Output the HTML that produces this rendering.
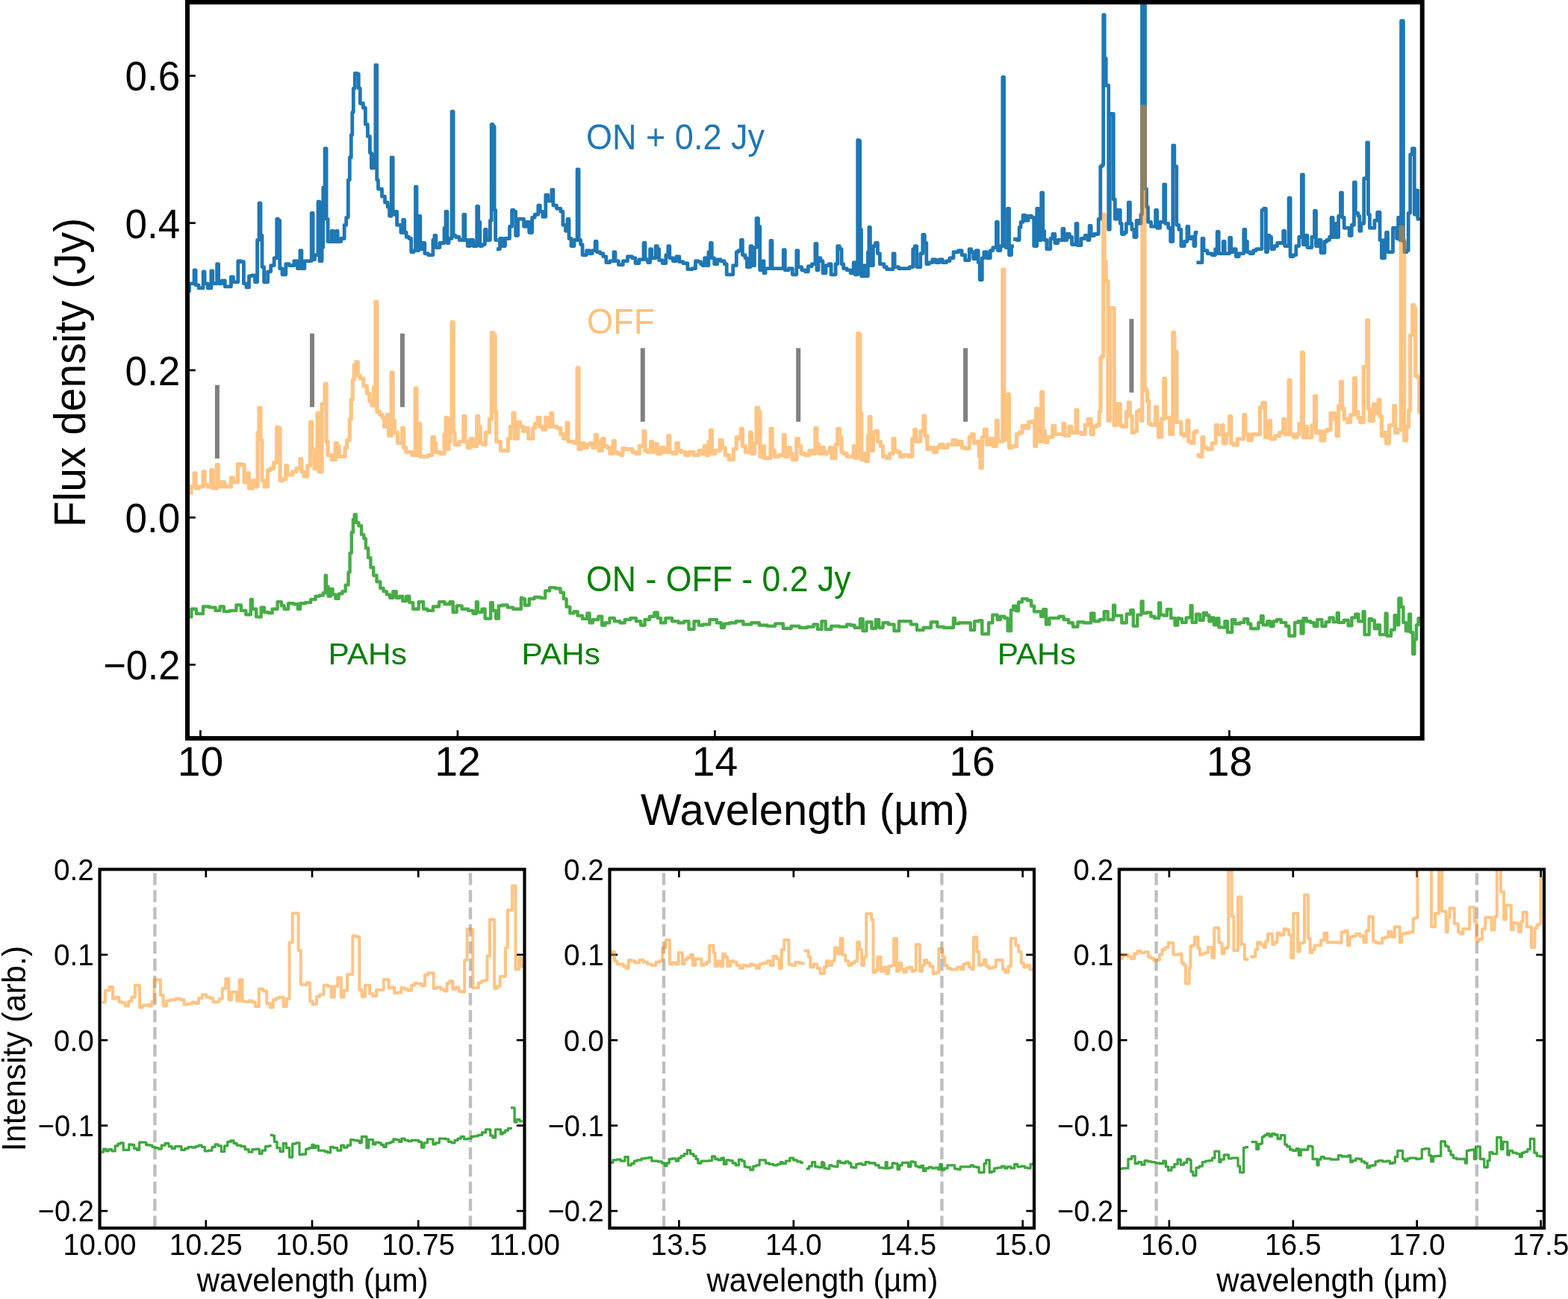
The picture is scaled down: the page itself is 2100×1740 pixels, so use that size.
<!DOCTYPE html><html><head><meta charset="utf-8"><title>Spectra</title><style>
html,body{margin:0;padding:0;background:#fff;}svg{display:block;}
text{font-family:'Liberation Sans', 'DejaVu Sans', sans-serif;}
</style></head><body>
<svg xmlns="http://www.w3.org/2000/svg" width="2100" height="1740" viewBox="0 0 2100 1740">
<rect x="0" y="0" width="2100" height="1740" fill="#ffffff"/>
<defs>
<clipPath id="cm"><rect x="251.00" y="2.90" width="1653.75" height="986.10"/></clipPath>
<clipPath id="cp0"><rect x="133.55" y="1164.50" width="568.95" height="480.50"/></clipPath>
<clipPath id="cp1"><rect x="816.50" y="1164.50" width="568.50" height="480.50"/></clipPath>
<clipPath id="cp2"><rect x="1498.90" y="1164.50" width="569.10" height="480.50"/></clipPath>
</defs>
<g clip-path="url(#cm)" fill="none" stroke-linejoin="round" stroke-linecap="square">
<path d="M252.0,389.9 L253.5,389.9 L253.5,379.9 L260.1,379.9 L260.1,361.8 L262.1,361.8 L262.1,381.9 L266.1,381.9 L266.1,385.9 L272.1,385.9 L272.1,363.8 L274.1,363.8 L274.1,379.9 L278.2,379.9 L278.2,385.9 L282.8,385.9 L282.8,362.8 L284.8,362.8 L284.8,379.9 L290.6,379.9 L290.6,353.7 L292.6,353.7 L292.6,379.9 L297.3,379.9 L297.3,375.8 L301.3,375.8 L301.3,383.9 L309.4,383.9 L309.4,370.8 L312.4,370.8 L312.4,377.8 L318.8,377.8 L318.8,349.7 L322.6,349.7 L322.6,350.7 L326.4,350.7 L326.4,379.9 L330.0,379.9 L330.0,384.9 L333.5,384.9 L333.5,369.8 L337.0,369.8 L337.0,368.8 L341.5,368.8 L341.5,377.8 L344.6,377.8 L344.6,321.5 L347.0,321.5 L347.0,272.2 L349.0,272.2 L349.0,315.5 L351.0,315.5 L351.0,357.7 L353.6,357.7 L353.6,377.8 L358.6,377.8 L358.6,363.8 L362.7,363.8 L362.7,355.7 L367.2,355.7 L367.2,345.7 L370.7,345.7 L370.7,293.4 L372.7,293.4 L372.7,295.4 L374.7,295.4 L374.7,359.7 L378.0,359.7 L378.0,367.8 L382.8,367.8 L382.8,353.7 L387.3,353.7 L387.3,355.7 L393.8,355.7 L393.8,349.7 L398.4,349.7 L398.4,359.7 L401.9,359.7 L401.9,335.6 L403.9,335.6 L403.9,359.7 L407.9,359.7 L407.9,349.7 L413.4,349.7 L413.4,349.7 L417.2,349.7 L417.2,285.3 L419.1,285.3 L419.1,347.7 L421.5,347.7 L421.5,341.6 L426.0,341.6 L426.0,270.2 L428.0,270.2 L428.0,349.7 L431.1,349.7 L431.1,331.6 L432.8,331.6 L432.8,251.1 L435.1,251.1 L435.1,198.8 L437.1,198.8 L437.1,293.4 L439.1,293.4 L439.1,323.5 L444.1,323.5 L444.1,309.4 L446.1,309.4 L446.1,323.5 L450.2,323.5 L450.2,309.4 L452.2,309.4 L452.2,323.5 L456.7,323.5 L456.7,319.5 L461.2,319.5 L461.2,301.4 L463.7,301.4 L463.7,291.3 L466.3,291.3 L466.3,241.1 L468.3,241.1 L468.3,210.9 L470.3,210.9 L470.3,180.7 L471.8,180.7 L471.8,150.5 L473.3,150.5 L473.3,118.3 L475.3,118.3 L475.3,98.2 L477.8,98.2 L477.8,99.2 L480.3,99.2 L480.3,118.3 L482.3,118.3 L482.3,138.5 L486.4,138.5 L486.4,144.5 L489.4,144.5 L489.4,166.6 L492.4,166.6 L492.4,182.7 L495.4,182.7 L495.4,204.8 L497.4,204.8 L497.4,225.0 L500.5,225.0 L500.5,206.9 L502.9,206.9 L502.9,87.2 L504.7,87.2 L504.7,241.1 L506.5,241.1 L506.5,253.1 L511.5,253.1 L511.5,263.2 L515.5,263.2 L515.5,271.2 L519.1,271.2 L519.1,277.3 L521.6,277.3 L521.6,289.3 L524.2,289.3 L524.2,210.9 L526.2,210.9 L526.2,287.3 L529.1,287.3 L529.1,283.3 L531.6,283.3 L531.6,301.4 L536.9,301.4 L536.9,311.5 L539.7,311.5 L539.7,294.4 L541.7,294.4 L541.7,311.5 L544.2,311.5 L544.2,317.5 L547.7,317.5 L547.7,319.5 L550.7,319.5 L550.7,337.6 L554.3,337.6 L554.3,335.6 L556.5,335.6 L556.5,250.1 L558.0,250.1 L558.0,335.6 L560.8,335.6 L560.8,289.3 L562.8,289.3 L562.8,333.6 L565.8,333.6 L565.8,325.5 L568.8,325.5 L568.8,339.6 L573.4,339.6 L573.4,341.6 L579.9,341.6 L579.9,321.5 L581.9,321.5 L581.9,315.5 L583.9,315.5 L583.9,331.6 L589.0,331.6 L589.0,325.5 L595.0,325.5 L595.0,305.4 L597.0,305.4 L597.0,283.3 L599.0,283.3 L599.0,325.5 L601.1,325.5 L601.1,319.5 L603.1,319.5 L603.1,319.5 L605.1,319.5 L605.1,149.5 L607.1,149.5 L607.1,315.5 L610.1,315.5 L610.1,317.5 L615.1,317.5 L615.1,321.5 L620.8,321.5 L620.8,287.3 L622.8,287.3 L622.8,321.5 L626.2,321.5 L626.2,329.6 L629.7,329.6 L629.7,321.5 L633.8,321.5 L633.8,329.6 L638.7,329.6 L638.7,276.3 L640.7,276.3 L640.7,297.4 L642.8,297.4 L642.8,329.6 L645.8,329.6 L645.8,327.6 L649.4,327.6 L649.4,307.4 L651.4,307.4 L651.4,321.5 L656.4,321.5 L656.4,295.4 L658.2,295.4 L658.2,166.6 L660.2,166.6 L660.2,169.6 L662.1,169.6 L662.1,281.3 L663.6,281.3 L663.6,321.5 L664.4,321.5 M667.4,333.6 L669.5,333.6 L669.5,319.5 L672.5,319.5 L672.5,329.6 L676.5,329.6 L676.5,319.5 L682.5,319.5 L682.5,303.4 L685.6,303.4 L685.6,281.3 L688.1,281.3 L688.1,283.3 L690.6,283.3 L690.6,315.5 L693.6,315.5 L693.6,293.4 L697.1,293.4 L697.1,293.4 L701.6,293.4 L701.6,303.4 L705.7,303.4 L705.7,297.4 L708.7,297.4 L708.7,311.5 L712.7,311.5 L712.7,291.3 L716.2,291.3 L716.2,287.3 L720.8,287.3 L720.8,275.2 L723.3,275.2 L723.3,283.3 L726.8,283.3 L726.8,290.3 L730.8,290.3 L730.8,261.2 L733.8,261.2 L733.8,269.2 L738.9,269.2 L738.9,254.1 L740.9,254.1 L740.9,275.2 L745.4,275.2 L745.4,279.3 L750.9,279.3 L750.9,283.3 L753.9,283.3 L753.9,301.4 L757.5,301.4 L757.5,309.4 L760.0,309.4 L760.0,293.4 L762.0,293.4 L762.0,319.5 L765.0,319.5 L765.0,329.6 L769.0,329.6 L769.0,321.5 L773.1,321.5 L773.1,227.0 L775.1,227.0 L775.1,321.5 L777.6,321.5 L777.6,327.6 L780.1,327.6 L780.1,341.6 L785.6,341.6 L785.6,335.6 L789.7,335.6 L789.7,339.6 L793.2,339.6 L793.2,335.6 L797.2,335.6 L797.2,323.5 L799.2,323.5 L799.2,337.6 L803.7,337.6 L803.7,339.6 L807.8,339.6 L807.8,343.6 L811.8,343.6 L811.8,351.7 L816.8,351.7 L816.8,349.7 L822.0,349.7 L822.0,337.6 L824.0,337.6 L824.0,349.7 L828.4,349.7 L828.4,354.7 L834.4,354.7 L834.4,349.7 L840.5,349.7 L840.5,343.6 L846.5,343.6 L846.5,345.7 L851.0,345.7 L851.0,352.7 L856.0,352.7 L856.0,347.7 L862.0,347.7 L862.0,325.5 L864.0,325.5 L864.0,347.7 L867.6,347.7 L867.6,351.7 L870.6,351.7 L870.6,333.6 L872.6,333.6 L872.6,345.7 L878.1,345.7 L878.1,329.6 L880.4,329.6 L880.4,333.6 L882.7,333.6 L882.7,348.7 L887.2,348.7 L887.2,352.7 L891.8,352.7 L891.8,341.6 L894.8,341.6 L894.8,329.6 L896.8,329.6 L896.8,345.7 L901.3,345.7 L901.3,349.7 L905.8,349.7 L905.8,343.6 L909.9,343.6 L909.9,350.7 L914.9,350.7 L914.9,352.7 L920.9,352.7 L920.9,360.7 L927.0,360.7 L927.0,359.7 L931.5,359.7 L931.5,349.7 L935.0,349.7 L935.0,350.7 L938.5,350.7 L938.5,353.7 L941.1,353.7 L941.1,355.7 L943.6,355.7 L943.6,345.7 L946.6,345.7 L946.6,355.7 L948.9,355.7 L948.9,337.6 L951.5,337.6 L951.5,325.5 L953.3,325.5 L953.3,345.7 L956.7,345.7 L956.7,353.7 L960.7,353.7 L960.7,347.7 L965.2,347.7 L965.2,349.7 L970.2,349.7 L970.2,353.7 L973.2,353.7 L973.2,367.8 L981.7,367.8 L981.7,355.7 L986.3,355.7 L986.3,337.6 L988.8,337.6 L988.8,335.6 L992.4,335.6 L992.4,321.5 L994.4,321.5 L994.4,341.6 L997.9,341.6 L997.9,345.7 L1000.4,345.7 L1000.4,357.7 L1005.0,357.7 L1005.0,329.6 L1007.0,329.6 L1007.0,355.7 L1010.5,355.7 L1010.5,331.6 L1013.1,331.6 L1013.1,292.3 L1015.5,292.3 L1015.5,303.4 L1017.7,303.4 L1017.7,361.8 L1021.5,361.8 L1021.5,349.7 L1023.0,349.7 L1023.0,365.8 L1025.1,365.8 L1025.1,359.7 L1032.0,359.7 L1032.0,322.5 L1034.0,322.5 L1034.0,359.7 L1039.1,359.7 L1039.1,359.7 L1044.7,359.7 L1044.7,359.7 L1049.3,359.7 L1049.3,334.6 L1051.3,334.6 L1051.3,361.8 L1056.2,361.8 L1056.2,359.7 L1061.3,359.7 L1061.3,367.8 L1066.8,367.8 L1066.8,335.6 L1068.8,335.6 L1068.8,357.7 L1073.8,357.7 L1073.8,361.8 L1078.4,361.8 L1078.4,363.8 L1082.4,363.8 L1082.4,356.7 L1087.4,356.7 L1087.4,353.7 L1091.9,353.7 L1091.9,326.5 L1093.9,326.5 L1093.9,361.8 L1096.0,361.8 L1096.0,345.7 L1099.0,345.7 L1099.0,349.7 L1102.0,349.7 L1102.0,365.8 L1106.0,365.8 L1106.0,355.7 L1110.0,355.7 L1110.0,353.7 L1113.1,353.7 L1113.1,367.8 L1119.1,367.8 L1119.1,353.7 L1121.7,353.7 L1121.7,329.6 L1124.4,329.6 L1124.4,333.6 L1127.1,333.6 L1127.1,353.7 L1129.7,353.7 L1129.7,359.7 L1134.2,359.7 L1134.2,361.8 L1139.2,361.8 L1139.2,365.8 L1143.2,365.8 L1143.2,351.7 L1145.2,351.7 L1145.2,367.8 L1148.7,367.8 L1148.7,187.7 L1150.3,187.7 L1150.3,188.7 L1151.7,188.7 L1151.7,307.4 L1153.5,307.4 L1153.5,369.8 L1157.3,369.8 L1157.3,355.7 L1159.3,355.7 L1159.3,369.8 L1162.4,369.8 L1162.4,337.6 L1163.9,337.6 L1163.9,304.4 L1165.4,304.4 L1165.4,355.7 L1169.4,355.7 L1169.4,329.6 L1172.4,329.6 L1172.4,325.5 L1175.4,325.5 L1175.4,339.6 L1178.4,339.6 L1178.4,353.7 L1184.0,353.7 L1184.0,357.7 L1187.5,357.7 L1187.5,360.7 L1192.0,360.7 L1192.0,360.7 L1196.1,360.7 L1196.1,339.6 L1198.1,339.6 L1198.1,357.7 L1203.6,357.7 L1203.6,359.7 L1211.6,359.7 L1211.6,359.7 L1218.2,359.7 L1218.2,357.7 L1222.7,357.7 L1222.7,333.6 L1225.2,333.6 L1225.2,329.6 L1227.7,329.6 L1227.7,357.7 L1232.8,357.7 L1232.8,339.6 L1235.8,339.6 L1235.8,314.5 L1238.3,314.5 L1238.3,325.5 L1240.8,325.5 L1240.8,353.7 L1244.3,353.7 L1244.3,351.7 L1248.8,351.7 L1248.8,347.7 L1253.4,347.7 L1253.4,351.7 L1257.9,351.7 L1257.9,347.7 L1262.4,347.7 L1262.4,351.7 L1267.5,351.7 L1267.5,349.7 L1272.0,349.7 L1272.0,345.7 L1277.0,345.7 L1277.0,337.6 L1280.5,337.6 L1280.5,337.6 L1283.6,337.6 L1283.6,335.6 L1288.1,335.6 L1288.1,341.6 L1292.6,341.6 L1292.6,348.7 L1298.2,348.7 L1298.2,333.6 L1300.7,333.6 L1300.7,337.6 L1303.7,337.6 L1303.7,346.7 L1307.2,346.7 L1307.2,335.6 L1310.2,335.6 L1310.2,351.7 L1312.2,351.7 L1312.2,374.8 L1315.3,374.8 L1315.3,345.7 L1317.8,345.7 L1317.8,337.6 L1321.8,337.6 L1321.8,345.7 L1326.3,345.7 L1326.3,335.6 L1329.8,335.6 L1329.8,331.6 L1334.4,331.6 L1334.4,297.4 L1336.4,297.4 L1336.4,335.6 L1339.9,335.6 L1339.9,329.6 L1342.8,329.6 L1342.8,103.3 L1344.6,103.3 L1344.6,329.6 L1346.9,329.6 L1346.9,331.6 L1349.5,331.6 L1349.5,279.3 L1351.5,279.3 L1351.5,341.6 L1354.5,341.6 L1354.5,329.6 L1355.5,329.6 M1359.5,320.5 L1362.0,320.5 L1362.0,321.5 L1365.1,321.5 L1365.1,304.4 L1367.1,304.4 L1367.1,297.4 L1370.1,297.4 L1370.1,288.3 L1373.1,288.3 L1373.1,295.4 L1377.1,295.4 L1377.1,289.3 L1381.6,289.3 L1381.6,291.3 L1384.7,291.3 L1384.7,329.6 L1388.7,329.6 L1388.7,279.3 L1390.7,279.3 L1390.7,321.5 L1394.7,321.5 L1394.7,258.1 L1396.7,258.1 L1396.7,309.4 L1398.7,309.4 L1398.7,321.5 L1401.8,321.5 L1401.8,333.6 L1406.8,333.6 L1406.8,319.5 L1409.8,319.5 L1409.8,313.5 L1412.8,313.5 L1412.8,325.5 L1416.9,325.5 L1416.9,321.5 L1422.9,321.5 L1422.9,306.4 L1424.9,306.4 L1424.9,321.5 L1428.9,321.5 L1428.9,313.5 L1432.4,313.5 L1432.4,317.5 L1435.5,317.5 L1435.5,327.6 L1441.0,327.6 L1441.0,299.4 L1443.0,299.4 L1443.0,328.6 L1448.0,328.6 L1448.0,319.5 L1453.1,319.5 L1453.1,315.5 L1456.6,315.5 L1456.6,321.5 L1459.1,321.5 L1459.1,302.4 L1461.1,302.4 L1461.1,315.5 L1465.6,315.5 L1465.6,313.5 L1471.2,313.5 L1471.2,293.4 L1473.8,293.4 L1473.8,222.9 L1476.0,222.9 L1476.0,220.9 L1477.7,220.9 L1477.7,19.8 L1479.2,19.8 L1479.2,78.1 L1481.2,78.1 L1481.2,114.3 L1483.2,114.3 L1483.2,114.3 L1484.7,114.3 L1484.7,307.4 L1486.3,307.4 L1486.3,152.5 L1488.8,152.5 L1488.8,152.5 L1491.3,152.5 L1491.3,267.2 L1493.3,267.2 L1493.3,293.4 L1496.3,293.4 L1496.3,281.3 L1498.3,281.3 L1498.3,281.3 L1500.3,281.3 L1500.3,299.4 L1502.3,299.4 L1502.3,313.5 L1505.9,313.5 L1505.9,311.5 L1508.4,311.5 L1508.4,299.4 L1511.4,299.4 L1511.4,271.2 L1513.4,271.2 L1513.4,299.4 L1515.9,299.4 L1515.9,307.4 L1518.9,307.4 L1518.9,317.5 L1522.1,317.5 L1522.1,295.4 L1525.3,295.4 L1525.3,299.4 L1528.0,299.4 L1528.0,287.3 L1529.5,287.3 L1529.5,5.7 L1531.5,5.7 L1531.5,5.7 L1533.5,5.7 L1533.5,253.1 L1535.5,253.1 L1535.5,277.3 L1537.5,277.3 L1537.5,297.4 L1541.6,297.4 L1541.6,303.4 L1547.6,303.4 L1547.6,281.3 L1549.6,281.3 L1549.6,305.4 L1553.6,305.4 L1553.6,297.4 L1558.7,297.4 L1558.7,247.1 L1560.7,247.1 L1560.7,299.4 L1564.7,299.4 L1564.7,305.4 L1567.7,305.4 L1567.7,323.5 L1570.8,323.5 L1570.8,194.8 L1572.8,194.8 L1572.8,222.9 L1575.8,222.9 L1575.8,301.4 L1578.8,301.4 L1578.8,307.4 L1581.8,307.4 L1581.8,329.6 L1586.3,329.6 L1586.3,323.5 L1589.9,323.5 L1589.9,303.4 L1591.9,303.4 L1591.9,319.5 L1595.9,319.5 L1595.9,317.5 L1598.9,317.5 L1598.9,329.6 L1600.9,329.6 L1600.9,311.5 L1601.9,311.5 M1604.9,351.7 L1607.0,351.7 L1607.0,351.7 L1610.0,351.7 L1610.0,319.5 L1612.0,319.5 L1612.0,335.6 L1617.0,335.6 L1617.0,339.6 L1623.1,339.6 L1623.1,341.6 L1627.7,341.6 L1627.7,333.6 L1630.2,333.6 L1630.2,310.5 L1632.2,310.5 L1632.2,339.6 L1635.7,339.6 L1635.7,339.6 L1638.2,339.6 L1638.2,323.5 L1640.2,323.5 L1640.2,339.6 L1646.7,339.6 L1646.7,318.5 L1648.7,318.5 L1648.7,337.6 L1651.8,337.6 L1651.8,333.6 L1655.3,333.6 L1655.3,343.6 L1659.3,343.6 L1659.3,339.6 L1665.8,339.6 L1665.8,307.4 L1667.8,307.4 L1667.8,323.5 L1670.4,323.5 L1670.4,337.6 L1673.9,337.6 L1673.9,339.6 L1678.5,339.6 L1678.5,335.6 L1682.5,335.6 L1682.5,333.6 L1687.0,333.6 L1687.0,333.6 L1690.0,333.6 L1690.0,281.3 L1692.5,281.3 L1692.5,279.3 L1695.4,279.3 L1695.4,337.6 L1697.6,337.6 L1697.6,315.5 L1700.1,315.5 L1700.1,317.5 L1702.6,317.5 L1702.6,333.6 L1706.6,333.6 L1706.6,329.6 L1710.6,329.6 L1710.6,325.5 L1714.7,325.5 L1714.7,325.5 L1718.7,325.5 L1718.7,309.4 L1720.7,309.4 L1720.7,329.6 L1726.1,329.6 L1726.1,265.2 L1728.1,265.2 L1728.1,343.6 L1732.3,343.6 L1732.3,341.6 L1735.8,341.6 L1735.8,329.6 L1739.8,329.6 L1739.8,317.5 L1743.4,317.5 L1743.4,234.0 L1745.4,234.0 L1745.4,327.6 L1748.9,327.6 L1748.9,315.5 L1750.9,315.5 L1750.9,331.6 L1756.9,331.6 L1756.9,317.5 L1760.5,317.5 L1760.5,282.3 L1762.5,282.3 L1762.5,329.6 L1766.0,329.6 L1766.0,321.5 L1769.0,321.5 L1769.0,338.6 L1774.0,338.6 L1774.0,323.5 L1777.0,323.5 L1777.0,321.5 L1780.5,321.5 L1780.5,317.5 L1783.1,317.5 L1783.1,291.3 L1785.1,291.3 L1785.1,317.5 L1789.1,317.5 L1789.1,299.4 L1791.1,299.4 L1791.1,317.5 L1792.6,317.5 L1792.6,289.3 L1795.5,289.3 L1795.5,258.1 L1797.5,258.1 L1797.5,291.3 L1800.2,291.3 L1800.2,305.4 L1803.2,305.4 L1803.2,305.4 L1807.2,305.4 L1807.2,315.5 L1810.2,315.5 L1810.2,301.4 L1813.4,301.4 L1813.4,244.1 L1815.4,244.1 L1815.4,285.3 L1818.8,285.3 L1818.8,289.3 L1820.8,289.3 L1820.8,309.4 L1822.8,309.4 L1822.8,299.4 L1826.7,299.4 L1826.7,239.0 L1830.7,239.0 L1830.7,190.8 L1832.5,190.8 L1832.5,287.3 L1834.4,287.3 L1834.4,305.4 L1837.9,305.4 L1837.9,305.4 L1840.9,305.4 L1840.9,295.4 L1844.7,295.4 L1844.7,284.3 L1848.0,284.3 L1848.0,321.5 L1850.4,321.5 L1850.4,345.7 L1854.5,345.7 L1854.5,321.5 L1856.5,321.5 L1856.5,311.5 L1858.5,311.5 L1858.5,337.6 L1861.5,337.6 L1861.5,337.6 L1865.5,337.6 L1865.5,305.4 L1868.1,305.4 L1868.1,305.4 L1870.6,305.4 L1870.6,319.5 L1872.6,319.5 L1872.6,291.3 L1874.6,291.3 L1874.6,321.5 L1876.6,321.5 L1876.6,28.0 L1878.0,28.0 L1878.0,28.0 L1879.4,28.0 L1879.4,323.5 L1881.0,323.5 L1881.0,337.6 L1884.1,337.6 L1884.1,335.6 L1886.2,335.6 L1886.2,285.3 L1888.7,285.3 L1888.7,206.9 L1891.5,206.9 L1891.5,198.8 L1894.3,198.8 L1894.3,287.3 L1896.7,287.3 L1896.7,255.1 L1898.7,255.1 L1898.7,293.4 L1900.7,293.4 L1900.7,293.4 L1901.8,293.4" stroke="#1f77b4" stroke-width="4.8"/>
<path d="M254.0,659.9 L256.0,659.9 L256.0,651.9 L260.1,651.9 L260.1,633.8 L262.1,633.8 L262.1,653.9 L266.1,653.9 L266.1,651.9 L272.1,651.9 L272.1,631.8 L274.1,631.8 L274.1,649.9 L278.2,649.9 L278.2,651.9 L282.8,651.9 L282.8,629.7 L284.8,629.7 L284.8,653.9 L290.2,653.9 L290.2,622.7 L292.2,622.7 L292.2,651.9 L296.3,651.9 L296.3,645.8 L300.8,645.8 L300.8,651.9 L309.4,651.9 L309.4,639.8 L312.4,639.8 L312.4,645.8 L318.4,645.8 L318.4,621.7 L322.7,621.7 L322.7,622.7 L327.0,622.7 L327.0,645.8 L331.5,645.8 L331.5,633.8 L333.5,633.8 L333.5,653.9 L338.5,653.9 L338.5,643.8 L342.5,643.8 L342.5,651.9 L345.1,651.9 L345.1,579.4 L347.0,579.4 L347.0,546.3 L349.0,546.3 L349.0,589.5 L351.0,589.5 L351.0,643.8 L354.1,643.8 L354.1,651.9 L358.6,651.9 L358.6,629.7 L362.2,629.7 L362.2,627.7 L366.7,627.7 L366.7,619.7 L370.7,619.7 L370.7,572.4 L373.0,572.4 L373.0,573.4 L375.0,573.4 L375.0,643.8 L378.2,643.8 L378.2,641.8 L382.8,641.8 L382.8,623.7 L384.8,623.7 L384.8,635.8 L391.8,635.8 L391.8,631.8 L396.9,631.8 L396.9,627.7 L401.9,627.7 L401.9,614.7 L403.9,614.7 L403.9,631.8 L406.9,631.8 L406.9,637.8 L411.9,637.8 L411.9,623.7 L415.6,623.7 L415.6,565.4 L417.6,565.4 L417.6,601.6 L421.0,601.6 L421.0,627.7 L425.0,627.7 L425.0,553.3 L427.0,553.3 L427.0,631.8 L431.1,631.8 L431.1,541.2 L435.1,541.2 L435.1,514.1 L437.1,514.1 L437.1,591.5 L439.1,591.5 L439.1,609.6 L444.1,609.6 L444.1,615.7 L449.2,615.7 L449.2,593.5 L451.7,593.5 L451.7,597.6 L454.2,597.6 L454.2,611.6 L458.2,611.6 L458.2,611.6 L462.2,611.6 L462.2,599.6 L464.7,599.6 L464.7,589.5 L468.3,589.5 L468.3,561.3 L470.3,561.3 L470.3,535.2 L472.3,535.2 L472.3,509.0 L474.3,509.0 L474.3,488.9 L476.8,488.9 L476.8,484.9 L479.3,484.9 L479.3,503.0 L482.3,503.0 L482.3,507.0 L486.9,507.0 L486.9,517.1 L491.4,517.1 L491.4,527.1 L494.9,527.1 L494.9,537.2 L497.9,537.2 L497.9,543.2 L500.5,543.2 L500.5,519.1 L502.9,519.1 L502.9,404.4 L504.9,404.4 L504.9,551.3 L508.5,551.3 L508.5,555.3 L512.0,555.3 L512.0,559.3 L514.5,559.3 L514.5,571.4 L518.6,571.4 L518.6,555.3 L520.6,555.3 L520.6,583.5 L524.2,583.5 L524.2,499.0 L526.2,499.0 L526.2,563.4 L528.6,563.4 L528.6,579.4 L532.6,579.4 L532.6,593.5 L538.7,593.5 L538.7,573.4 L540.7,573.4 L540.7,599.6 L543.7,599.6 L543.7,605.6 L547.7,605.6 L547.7,605.6 L551.8,605.6 L551.8,609.6 L556.2,609.6 L556.2,520.1 L558.0,520.1 L558.0,609.6 L560.8,609.6 L560.8,567.4 L562.8,567.4 L562.8,611.6 L567.3,611.6 L567.3,611.6 L572.9,611.6 L572.9,609.6 L578.9,609.6 L578.9,585.5 L581.4,585.5 L581.4,593.5 L583.9,593.5 L583.9,605.6 L589.0,605.6 L589.0,607.6 L595.0,607.6 L595.0,581.5 L597.0,581.5 L597.0,559.3 L599.0,559.3 L599.0,601.6 L601.1,601.6 L601.1,591.5 L603.1,591.5 L603.1,561.3 L605.1,561.3 L605.1,431.6 L607.1,431.6 L607.1,579.4 L609.1,579.4 L609.1,595.5 L615.1,595.5 L615.1,591.5 L620.8,591.5 L620.8,557.3 L622.8,557.3 L622.8,591.5 L626.2,591.5 L626.2,599.6 L630.2,599.6 L630.2,587.5 L633.3,587.5 L633.3,597.6 L638.7,597.6 L638.7,557.3 L640.7,557.3 L640.7,571.4 L643.3,571.4 L643.3,593.5 L646.8,593.5 L646.8,595.5 L650.4,595.5 L650.4,579.4 L655.4,579.4 L655.4,561.3 L658.4,561.3 L658.4,445.7 L660.7,445.7 L660.7,448.7 L663.0,448.7 L663.0,551.3 L664.7,551.3 L664.7,591.5 L667.4,591.5 L667.4,591.5 L670.5,591.5 L670.5,603.6 L675.0,603.6 L675.0,603.6 L680.5,603.6 L680.5,587.5 L683.5,587.5 L683.5,571.4 L687.0,571.4 L687.0,553.3 L689.0,553.3 L689.0,587.5 L693.6,587.5 L693.6,565.4 L696.6,565.4 L696.6,571.4 L700.6,571.4 L700.6,577.4 L704.7,577.4 L704.7,573.4 L707.7,573.4 L707.7,587.5 L713.7,587.5 L713.7,573.4 L716.7,573.4 L716.7,567.4 L720.3,567.4 L720.3,559.3 L722.8,559.3 L722.8,571.4 L726.8,571.4 L726.8,575.4 L730.8,575.4 L730.8,559.3 L732.8,559.3 L732.8,571.4 L737.9,571.4 L737.9,553.3 L739.9,553.3 L739.9,571.4 L745.9,571.4 L745.9,573.4 L750.9,573.4 L750.9,581.5 L754.5,581.5 L754.5,587.5 L759.0,587.5 L759.0,566.4 L761.0,566.4 L761.0,591.5 L764.8,591.5 L764.8,591.5 L769.0,591.5 L769.0,593.5 L773.1,593.5 L773.1,492.9 L775.1,492.9 L775.1,601.6 L778.1,601.6 L778.1,593.5 L782.1,593.5 L782.1,599.6 L786.1,599.6 L786.1,595.5 L790.2,595.5 L790.2,593.5 L793.7,593.5 L793.7,599.6 L797.2,599.6 L797.2,582.5 L799.7,582.5 L799.7,591.5 L802.2,591.5 L802.2,603.6 L806.3,603.6 L806.3,587.5 L809.3,587.5 L809.3,597.6 L813.3,597.6 L813.3,599.6 L816.8,599.6 L816.8,607.6 L821.3,607.6 L821.3,590.5 L823.3,590.5 L823.3,605.6 L826.9,605.6 L826.9,607.6 L831.4,607.6 L831.4,609.6 L833.9,609.6 L833.9,600.6 L836.9,600.6 L836.9,601.6 L842.0,601.6 L842.0,601.6 L847.0,601.6 L847.0,605.6 L851.5,605.6 L851.5,607.6 L856.5,607.6 L856.5,597.6 L862.0,597.6 L862.0,577.4 L864.0,577.4 L864.0,603.6 L867.6,603.6 L867.6,605.6 L871.6,605.6 L871.6,591.5 L873.6,591.5 L873.6,605.6 L877.7,605.6 L877.7,594.5 L880.7,594.5 L880.7,607.6 L885.7,607.6 L885.7,599.6 L889.7,599.6 L889.7,605.6 L894.8,605.6 L894.8,583.5 L896.8,583.5 L896.8,605.6 L900.8,605.6 L900.8,607.6 L905.8,607.6 L905.8,593.5 L908.3,593.5 L908.3,603.6 L912.9,603.6 L912.9,605.6 L917.9,605.6 L917.9,609.6 L922.9,609.6 L922.9,605.6 L929.0,605.6 L929.0,609.6 L936.0,609.6 L936.0,603.6 L940.5,603.6 L940.5,607.6 L943.1,607.6 L943.1,597.6 L946.1,597.6 L946.1,609.6 L949.1,609.6 L949.1,591.5 L951.5,591.5 L951.5,576.4 L953.5,576.4 L953.5,607.6 L957.7,607.6 L957.7,603.6 L964.2,603.6 L964.2,589.5 L967.2,589.5 L967.2,599.6 L971.2,599.6 L971.2,609.6 L976.3,609.6 L976.3,615.7 L982.3,615.7 L982.3,601.6 L986.3,601.6 L986.3,585.5 L988.8,585.5 L988.8,587.5 L992.4,587.5 L992.4,574.4 L994.4,574.4 L994.4,597.6 L998.4,597.6 L998.4,605.6 L1004.4,605.6 L1004.4,579.4 L1006.4,579.4 L1006.4,607.6 L1010.5,607.6 L1010.5,593.5 L1013.1,593.5 L1013.1,546.3 L1015.8,546.3 L1015.8,551.3 L1018.0,551.3 L1018.0,611.6 L1021.5,611.6 L1021.5,597.6 L1023.5,597.6 L1023.5,613.6 L1026.6,613.6 L1026.6,613.6 L1032.0,613.6 L1032.0,574.4 L1034.0,574.4 L1034.0,603.6 L1037.6,603.6 L1037.6,611.6 L1043.2,611.6 L1043.2,609.6 L1049.3,609.6 L1049.3,582.5 L1051.3,582.5 L1051.3,611.6 L1055.7,611.6 L1055.7,599.6 L1058.2,599.6 L1058.2,607.6 L1061.3,607.6 L1061.3,615.7 L1066.8,615.7 L1066.8,587.5 L1069.3,587.5 L1069.3,597.6 L1072.8,597.6 L1072.8,607.6 L1077.9,607.6 L1077.9,609.6 L1083.9,609.6 L1083.9,603.6 L1088.9,603.6 L1088.9,607.6 L1091.9,607.6 L1091.9,573.4 L1093.9,573.4 L1093.9,595.5 L1097.0,595.5 L1097.0,607.6 L1100.5,607.6 L1100.5,599.6 L1103.5,599.6 L1103.5,607.6 L1107.0,607.6 L1107.0,605.6 L1111.1,605.6 L1111.1,599.6 L1114.1,599.6 L1114.1,613.6 L1119.1,613.6 L1119.1,595.5 L1121.7,595.5 L1121.7,574.4 L1124.4,574.4 L1124.4,585.5 L1127.1,585.5 L1127.1,605.6 L1129.7,605.6 L1129.7,607.6 L1134.2,607.6 L1134.2,611.6 L1139.2,611.6 L1139.2,611.6 L1143.2,611.6 L1143.2,597.6 L1145.2,597.6 L1145.2,613.6 L1148.7,613.6 L1148.7,446.7 L1150.3,446.7 L1150.3,447.7 L1151.9,447.7 L1151.9,553.3 L1153.9,553.3 L1153.9,615.7 L1156.8,615.7 L1156.8,607.6 L1159.6,607.6 L1159.6,617.7 L1162.4,617.7 L1162.4,583.5 L1164.2,583.5 L1164.2,558.3 L1166.0,558.3 L1166.0,603.6 L1169.4,603.6 L1169.4,579.4 L1172.4,579.4 L1172.4,577.4 L1175.4,577.4 L1175.4,591.5 L1179.4,591.5 L1179.4,597.6 L1182.5,597.6 L1182.5,611.6 L1187.5,611.6 L1187.5,613.6 L1191.5,613.6 L1191.5,607.6 L1196.1,607.6 L1196.1,587.5 L1198.1,587.5 L1198.1,603.6 L1201.6,603.6 L1201.6,605.6 L1205.6,605.6 L1205.6,611.6 L1210.6,611.6 L1210.6,609.6 L1216.7,609.6 L1216.7,611.6 L1221.7,611.6 L1221.7,587.5 L1224.7,587.5 L1224.7,575.4 L1226.7,575.4 L1226.7,591.5 L1232.8,591.5 L1232.8,577.4 L1236.8,577.4 L1236.8,557.3 L1238.8,557.3 L1238.8,583.5 L1241.8,583.5 L1241.8,601.6 L1245.3,601.6 L1245.3,599.6 L1250.4,599.6 L1250.4,605.6 L1254.4,605.6 L1254.4,599.6 L1258.4,599.6 L1258.4,595.5 L1263.4,595.5 L1263.4,599.6 L1269.0,599.6 L1269.0,595.5 L1276.0,595.5 L1276.0,589.5 L1280.5,589.5 L1280.5,595.5 L1283.6,595.5 L1283.6,591.5 L1288.1,591.5 L1288.1,599.6 L1292.1,599.6 L1292.1,600.6 L1298.2,600.6 L1298.2,585.5 L1301.2,585.5 L1301.2,581.5 L1304.2,581.5 L1304.2,593.5 L1308.7,593.5 L1308.7,591.5 L1311.2,591.5 L1311.2,611.6 L1313.0,611.6 L1313.0,626.7 L1315.3,626.7 L1315.3,585.5 L1318.3,585.5 L1318.3,575.4 L1321.3,575.4 L1321.3,595.5 L1325.8,595.5 L1325.8,587.5 L1330.4,587.5 L1330.4,597.6 L1334.4,597.6 L1334.4,563.4 L1336.4,563.4 L1336.4,591.5 L1342.8,591.5 L1342.8,361.2 L1344.8,361.2 L1344.8,589.5 L1349.5,589.5 L1349.5,528.1 L1351.5,528.1 L1351.5,599.6 L1355.7,599.6 L1355.7,597.6 L1361.5,597.6 L1361.5,581.5 L1365.1,581.5 L1365.1,579.4 L1369.1,579.4 L1369.1,570.4 L1373.1,570.4 L1373.1,573.4 L1377.6,573.4 L1377.6,565.4 L1382.2,565.4 L1382.2,564.4 L1385.7,564.4 L1385.7,597.6 L1387.7,597.6 L1387.7,547.3 L1389.7,547.3 L1389.7,591.5 L1394.7,591.5 L1394.7,525.1 L1396.7,525.1 L1396.7,577.4 L1399.7,577.4 L1399.7,592.5 L1402.8,592.5 L1402.8,585.5 L1409.8,585.5 L1409.8,570.4 L1412.8,570.4 L1412.8,581.5 L1417.9,581.5 L1417.9,581.5 L1423.9,581.5 L1423.9,567.4 L1425.9,567.4 L1425.9,583.5 L1431.9,583.5 L1431.9,571.4 L1435.0,571.4 L1435.0,579.4 L1441.0,579.4 L1441.0,549.3 L1443.0,549.3 L1443.0,579.4 L1448.0,579.4 L1448.0,581.5 L1453.1,581.5 L1453.1,569.4 L1457.1,569.4 L1457.1,561.3 L1461.1,561.3 L1461.1,581.5 L1464.4,581.5 L1464.4,571.4 L1468.7,571.4 L1468.7,569.4 L1472.2,569.4 L1472.2,551.3 L1474.0,551.3 L1474.0,478.9 L1476.0,478.9 L1476.0,476.9 L1477.7,476.9 L1477.7,287.0 L1479.2,287.0 L1479.2,350.1 L1481.2,350.1 L1481.2,376.3 L1484.0,376.3 L1484.0,563.4 L1486.3,563.4 L1486.3,412.5 L1489.3,412.5 L1489.3,412.5 L1492.1,412.5 L1492.1,569.4 L1495.3,569.4 L1495.3,541.2 L1497.8,541.2 L1497.8,541.2 L1500.3,541.2 L1500.3,569.4 L1503.4,569.4 L1503.4,571.4 L1508.4,571.4 L1508.4,551.3 L1511.4,551.3 L1511.4,539.2 L1513.4,539.2 L1513.4,557.3 L1516.2,557.3 L1516.2,579.4 L1518.7,579.4 L1518.7,577.4 L1522.5,577.4 L1522.5,551.3 L1525.5,551.3 L1525.5,549.3 L1528.3,549.3 L1528.3,563.4 L1529.8,563.4 L1529.8,142.9 L1531.5,142.9 L1531.5,142.9 L1533.0,142.9 L1533.0,519.1 L1534.5,519.1 L1534.5,523.1 L1536.5,523.1 L1536.5,537.2 L1538.6,537.2 L1538.6,567.4 L1541.6,567.4 L1541.6,569.4 L1547.6,569.4 L1547.6,545.2 L1549.6,545.2 L1549.6,567.4 L1551.6,567.4 L1551.6,585.5 L1555.7,585.5 L1555.7,561.3 L1558.7,561.3 L1558.7,507.0 L1560.7,507.0 L1560.7,559.3 L1564.2,559.3 L1564.2,559.3 L1566.7,559.3 L1566.7,581.5 L1570.8,581.5 L1570.8,445.7 L1572.8,445.7 L1572.8,470.8 L1575.8,470.8 L1575.8,565.4 L1578.8,565.4 L1578.8,565.4 L1581.8,565.4 L1581.8,581.5 L1585.3,581.5 L1585.3,583.5 L1589.9,583.5 L1589.9,563.4 L1591.9,563.4 L1591.9,591.5 L1595.4,591.5 L1595.4,593.5 L1598.9,593.5 L1598.9,579.4 L1601.4,579.4 L1601.4,577.4 L1602.9,577.4 M1604.9,609.6 L1607.0,609.6 L1607.0,611.6 L1610.0,611.6 L1610.0,585.5 L1612.0,585.5 L1612.0,599.6 L1617.0,599.6 L1617.0,601.6 L1623.1,601.6 L1623.1,593.8 L1628.2,593.8 L1628.2,569.7 L1630.2,569.7 L1630.2,581.8 L1636.2,581.8 L1636.2,569.7 L1638.2,569.7 L1638.2,593.8 L1642.3,593.8 L1642.3,581.8 L1646.7,581.8 L1646.7,557.6 L1648.7,557.6 L1648.7,593.8 L1652.3,593.8 L1652.3,595.8 L1657.3,595.8 L1657.3,587.8 L1665.8,587.8 L1665.8,555.6 L1667.8,555.6 L1667.8,581.8 L1671.9,581.8 L1671.9,589.8 L1676.4,589.8 L1676.4,581.8 L1681.5,581.8 L1681.5,581.8 L1687.5,581.8 L1687.5,545.5 L1691.0,545.5 L1691.0,539.5 L1694.5,539.5 L1694.5,585.8 L1699.6,585.8 L1699.6,563.6 L1701.6,563.6 L1701.6,587.8 L1707.6,587.8 L1707.6,583.8 L1713.7,583.8 L1713.7,579.7 L1718.7,579.7 L1718.7,561.6 L1720.7,561.6 L1720.7,581.8 L1726.1,581.8 L1726.1,509.3 L1728.1,509.3 L1728.1,581.8 L1732.8,581.8 L1732.8,585.8 L1736.8,585.8 L1736.8,581.8 L1739.8,581.8 L1739.8,567.7 L1743.4,567.7 L1743.4,472.1 L1745.4,472.1 L1745.4,585.8 L1748.9,585.8 L1748.9,571.7 L1750.9,571.7 L1750.9,585.8 L1756.9,585.8 L1756.9,569.7 L1760.5,569.7 L1760.5,530.5 L1762.5,530.5 L1762.5,579.7 L1766.0,579.7 L1766.0,577.7 L1769.0,577.7 L1769.0,589.8 L1774.0,589.8 L1774.0,577.7 L1777.5,577.7 L1777.5,575.7 L1782.1,575.7 L1782.1,553.6 L1784.6,553.6 L1784.6,553.6 L1787.6,553.6 L1787.6,561.6 L1790.1,561.6 L1790.1,583.8 L1792.6,583.8 L1792.6,543.5 L1795.5,543.5 L1795.5,511.3 L1797.5,511.3 L1797.5,547.6 L1800.2,547.6 L1800.2,561.6 L1804.7,561.6 L1804.7,565.7 L1808.7,565.7 L1808.7,555.6 L1813.4,555.6 L1813.4,506.3 L1815.4,506.3 L1815.4,551.6 L1818.8,551.6 L1818.8,559.6 L1821.8,559.6 L1821.8,565.7 L1826.3,565.7 L1826.3,491.2 L1830.7,491.2 L1830.7,428.9 L1832.5,428.9 L1832.5,547.6 L1834.4,547.6 L1834.4,563.6 L1839.4,563.6 L1839.4,541.5 L1841.4,541.5 L1841.4,553.6 L1846.0,553.6 L1846.0,535.5 L1848.0,535.5 L1848.0,557.6 L1850.4,557.6 L1850.4,583.8 L1853.5,583.8 L1853.5,579.7 L1856.5,579.7 L1856.5,593.8 L1860.5,593.8 L1860.5,569.7 L1866.6,569.7 L1866.6,543.5 L1868.6,543.5 L1868.6,579.7 L1872.1,579.7 L1872.1,575.7 L1876.2,575.7 L1876.2,304.1 L1878.2,304.1 L1878.2,320.2 L1880.6,320.2 L1880.6,589.8 L1883.7,589.8 L1883.7,571.7 L1886.7,571.7 L1886.7,549.6 L1888.7,549.6 L1888.7,449.0 L1891.7,449.0 L1891.7,408.7 L1893.7,408.7 L1893.7,412.8 L1895.7,412.8 L1895.7,503.3 L1898.2,503.3 L1898.2,505.3 L1900.7,505.3 L1900.7,551.6 L1901.8,551.6" stroke="#fd8a0a" stroke-opacity="0.5" stroke-width="5.2"/>
<path d="M254.3,826.4 L256.4,826.4 L256.4,815.7 L262.9,815.7 L262.9,822.1 L272.0,822.1 L272.0,812.5 L280.5,812.5 L280.5,813.6 L288.6,813.6 L288.6,817.9 L294.5,817.9 L294.5,812.5 L299.8,812.5 L299.8,818.9 L307.9,818.9 L307.9,817.9 L316.4,817.9 L316.4,810.4 L322.9,810.4 L322.9,817.9 L329.3,817.9 L329.3,823.2 L335.8,823.2 L335.8,802.9 L337.8,802.9 L337.8,815.7 L343.2,815.7 L343.2,826.4 L349.7,826.4 L349.7,813.6 L353.9,813.6 L353.9,820.0 L359.3,820.0 L359.3,821.1 L364.6,821.1 L364.6,815.7 L371.6,815.7 L371.6,806.1 L377.0,806.1 L377.0,811.4 L380.7,811.4 L380.7,815.7 L386.1,815.7 L386.1,808.2 L393.6,808.2 L393.6,809.3 L398.9,809.3 L398.9,815.7 L402.1,815.7 L402.1,808.2 L408.6,808.2 L408.6,807.1 L416.1,807.1 L416.1,802.9 L422.5,802.9 L422.5,798.6 L427.9,798.6 L427.9,797.5 L432.7,797.5 L432.7,794.3 L435.7,794.3 L435.7,770.7 L437.0,770.7 L437.0,785.7 L439.6,785.7 L439.6,798.6 L442.9,798.6 L442.9,788.9 L445.5,788.9 L445.5,796.4 L449.3,796.4 L449.3,801.8 L453.6,801.8 L453.6,795.4 L458.4,795.4 L458.4,792.1 L462.7,792.1 L462.7,783.6 L466.5,783.6 L466.5,766.4 L468.6,766.4 L468.6,740.7 L470.8,740.7 L470.8,712.9 L472.9,712.9 L472.9,695.7 L474.7,695.7 L474.7,689.3 L476.8,689.3 L476.8,700.0 L480.4,700.0 L480.4,704.3 L484.1,704.3 L484.1,716.1 L487.3,716.1 L487.3,721.4 L489.9,721.4 L489.9,734.3 L493.1,734.3 L493.1,747.1 L496.4,747.1 L496.4,760.0 L500.2,760.0 L500.2,770.7 L504.5,770.7 L504.5,779.3 L509.3,779.3 L509.3,787.9 L513.6,787.9 L513.6,792.1 L517.9,792.1 L517.9,796.4 L522.1,796.4 L522.1,800.7 L526.4,800.7 L526.4,792.1 L530.7,792.1 L530.7,800.7 L535.0,800.7 L535.0,798.6 L539.3,798.6 L539.3,805.0 L544.1,805.0 L544.1,798.6 L548.4,798.6 L548.4,807.1 L553.2,807.1 L553.2,815.7 L560.7,815.7 L560.7,806.1 L567.1,806.1 L567.1,815.7 L572.5,815.7 L572.5,817.9 L580.0,817.9 L580.0,812.5 L588.0,812.5 L588.0,806.1 L595.5,806.1 L595.5,809.3 L602.5,809.3 L602.5,806.1 L606.7,806.1 L606.7,820.0 L611.6,820.0 L611.6,811.4 L618.6,811.4 L618.6,815.7 L627.1,815.7 L627.1,817.9 L633.6,817.9 L633.6,822.1 L637.9,822.1 L637.9,806.1 L639.9,806.1 L639.9,820.0 L645.4,820.0 L645.4,815.7 L649.6,815.7 L649.6,828.6 L657.2,828.6 L657.2,807.1 L659.8,807.1 L659.8,817.9 L664.1,817.9 L664.1,828.6 L667.9,828.6 L667.9,811.4 L672.7,811.4 L672.7,810.4 L679.6,810.4 L679.6,813.6 L687.1,813.6 L687.1,815.7 L697.9,815.7 L697.9,800.7 L699.3,800.7 L699.3,802.1 L702.9,802.1 L702.9,810.7 L708.7,810.7 L708.7,802.1 L715.7,802.1 L715.7,800.0 L724.3,800.0 L724.3,801.1 L730.2,801.1 L730.2,791.4 L736.1,791.4 L736.1,787.1 L744.1,787.1 L744.1,788.2 L750.5,788.2 L750.5,793.6 L754.8,793.6 L754.8,802.1 L758.6,802.1 L758.6,812.9 L763.4,812.9 L763.4,821.4 L768.7,821.4 L768.7,819.3 L773.6,819.3 L773.6,824.6 L780.0,824.6 L780.0,828.9 L786.4,828.9 L786.4,821.4 L789.6,821.4 L789.6,834.3 L793.9,834.3 L793.9,830.0 L801.4,830.0 L801.4,825.7 L806.2,825.7 L806.2,837.5 L810.5,837.5 L810.5,834.3 L816.4,834.3 L816.4,827.9 L822.9,827.9 L822.9,832.1 L830.4,832.1 L830.4,834.3 L836.8,834.3 L836.8,830.0 L844.3,830.0 L844.3,827.9 L851.8,827.9 L851.8,832.1 L858.2,832.1 L858.2,837.5 L863.6,837.5 L863.6,830.0 L870.0,830.0 L870.0,825.7 L876.4,825.7 L876.4,820.4 L880.7,820.4 L880.7,827.9 L885.0,827.9 L885.0,834.3 L891.4,834.3 L891.4,827.9 L900.0,827.9 L900.0,832.1 L908.6,832.1 L908.6,834.3 L916.1,834.3 L916.1,832.1 L922.5,832.1 L922.5,842.9 L929.5,842.9 L929.5,832.1 L935.9,832.1 L935.9,837.5 L941.8,837.5 L941.8,836.4 L950.4,836.4 L950.4,830.0 L960.0,830.0 L960.0,834.3 L965.9,834.3 L965.9,840.7 L970.2,840.7 L970.2,835.4 L977.1,835.4 L977.1,834.3 L985.7,834.3 L985.7,832.1 L995.4,832.1 L995.4,836.4 L1006.1,836.4 L1006.1,834.3 L1016.8,834.3 L1016.8,837.5 L1027.5,837.5 L1027.5,838.6 L1038.2,838.6 L1038.2,835.4 L1048.9,835.4 L1048.9,841.8 L1059.6,841.8 L1059.6,838.6 L1070.4,838.6 L1070.4,840.7 L1081.1,840.7 L1081.1,839.6 L1089.6,839.6 L1089.6,836.4 L1095.0,836.4 L1095.0,842.9 L1100.4,842.9 L1100.4,832.1 L1105.7,832.1 L1105.7,842.9 L1113.2,842.9 L1113.2,838.6 L1123.9,838.6 L1123.9,839.6 L1134.1,839.6 L1134.1,836.4 L1139.3,836.4 L1139.3,837.5 L1144.5,837.5 L1144.5,840.7 L1152.0,840.7 L1152.0,828.9 L1155.6,828.9 L1155.6,845.0 L1160.5,845.0 L1160.5,833.2 L1167.5,833.2 L1167.5,841.8 L1172.9,841.8 L1172.9,830.0 L1177.1,830.0 L1177.1,840.7 L1182.5,840.7 L1182.5,834.3 L1190.0,834.3 L1190.0,836.4 L1197.5,836.4 L1197.5,845.0 L1204.0,845.0 L1204.0,832.1 L1210.4,832.1 L1210.4,832.1 L1220.0,832.1 L1220.0,836.4 L1228.0,836.4 L1228.0,843.9 L1236.6,843.9 L1236.6,840.7 L1246.8,840.7 L1246.8,833.2 L1255.4,833.2 L1255.4,839.6 L1263.9,839.6 L1263.9,840.7 L1276.9,840.7 L1276.9,827.9 L1278.9,827.9 L1278.9,835.4 L1284.3,835.4 L1284.3,834.3 L1292.9,834.3 L1292.9,834.3 L1299.8,834.3 L1299.8,843.9 L1305.2,843.9 L1305.2,832.1 L1311.1,832.1 L1311.1,831.1 L1315.3,831.1 L1315.3,849.3 L1324.0,849.3 L1324.0,834.3 L1329.3,834.3 L1329.3,823.6 L1335.7,823.6 L1335.7,830.0 L1340.0,830.0 L1340.0,825.7 L1345.4,825.7 L1345.4,827.9 L1349.6,827.9 L1349.6,845.0 L1354.0,845.0 L1354.0,817.1 L1357.1,817.1 L1357.1,811.8 L1360.9,811.8 L1360.9,818.2 L1364.1,818.2 L1364.1,806.4 L1368.9,806.4 L1368.9,802.1 L1375.9,802.1 L1375.9,804.3 L1381.2,804.3 L1381.2,811.8 L1385.0,811.8 L1385.0,819.3 L1390.4,819.3 L1390.4,819.3 L1394.1,819.3 L1394.1,825.7 L1397.3,825.7 L1397.3,816.1 L1401.0,816.1 L1401.0,836.4 L1405.4,836.4 L1405.4,827.9 L1411.2,827.9 L1411.2,827.9 L1418.2,827.9 L1418.2,825.7 L1424.6,825.7 L1424.6,830.0 L1431.1,830.0 L1431.1,834.3 L1437.0,834.3 L1437.0,839.6 L1443.4,839.6 L1443.4,833.2 L1451.4,833.2 L1451.4,834.3 L1461.1,834.3 L1461.1,821.4 L1465.4,821.4 L1465.4,832.1 L1472.3,832.1 L1472.3,830.0 L1478.7,830.0 L1478.7,819.3 L1483.6,819.3 L1483.6,830.0 L1491.1,830.0 L1491.1,810.7 L1493.1,810.7 L1493.1,824.6 L1502.3,824.6 L1502.3,834.3 L1508.7,834.3 L1508.7,822.5 L1514.1,822.5 L1514.1,817.1 L1517.8,817.1 L1517.8,838.6 L1523.3,838.6 L1523.3,823.6 L1528.6,823.6 L1528.6,805.4 L1530.6,805.4 L1530.6,821.4 L1535.5,821.4 L1535.5,820.4 L1541.4,820.4 L1541.4,825.7 L1546.2,825.7 L1546.2,827.9 L1552.2,827.9 L1552.2,807.5 L1554.2,807.5 L1554.2,823.6 L1558.6,823.6 L1558.6,824.6 L1562.9,824.6 L1562.9,816.1 L1568.2,816.1 L1568.2,827.9 L1573.6,827.9 L1573.6,837.5 L1577.3,837.5 L1577.3,827.9 L1579.3,827.9 L1579.3,829.0 L1583.0,829.0 L1583.0,833.9 L1588.6,833.9 L1588.6,827.4 L1594.6,827.4 L1594.6,811.2 L1596.6,811.2 L1596.6,833.9 L1602.0,833.9 L1602.0,822.6 L1606.8,822.6 L1606.8,830.7 L1611.7,830.7 L1611.7,821.0 L1616.1,821.0 L1616.1,824.2 L1619.4,824.2 L1619.4,832.3 L1621.8,832.3 L1621.8,827.4 L1625.9,827.4 L1625.9,837.1 L1629.9,837.1 L1629.9,828.2 L1632.5,828.2 L1632.5,840.4 L1640.4,840.4 L1640.4,832.3 L1643.9,832.3 L1643.9,846.9 L1650.0,846.9 L1650.0,829.9 L1654.2,829.9 L1654.2,835.5 L1660.7,835.5 L1660.7,833.9 L1666.3,833.9 L1666.3,829.0 L1671.2,829.0 L1671.2,835.5 L1675.2,835.5 L1675.2,842.0 L1680.1,842.0 L1680.1,842.0 L1685.4,842.0 L1685.4,833.9 L1689.0,833.9 L1689.0,825.0 L1691.6,825.0 L1691.6,837.1 L1697.1,837.1 L1697.1,832.3 L1701.5,832.3 L1701.5,838.8 L1705.6,838.8 L1705.6,832.3 L1710.0,832.3 L1710.0,829.9 L1715.7,829.9 L1715.7,833.9 L1722.2,833.9 L1722.2,838.8 L1726.4,838.8 L1726.4,851.7 L1734.1,851.7 L1734.1,833.9 L1738.4,833.9 L1738.4,832.3 L1742.6,832.3 L1742.6,848.5 L1745.5,848.5 L1745.5,828.2 L1749.7,828.2 L1749.7,832.3 L1755.4,832.3 L1755.4,833.9 L1759.8,833.9 L1759.8,838.8 L1764.3,838.8 L1764.3,829.9 L1770.4,829.9 L1770.4,838.8 L1775.6,838.8 L1775.6,833.1 L1780.5,833.1 L1780.5,827.4 L1785.7,827.4 L1785.7,833.1 L1790.8,833.1 L1790.8,821.0 L1792.8,821.0 L1792.8,833.9 L1799.9,833.9 L1799.9,830.7 L1805.6,830.7 L1805.6,838.0 L1810.4,838.0 L1810.4,827.4 L1815.3,827.4 L1815.3,822.6 L1819.3,822.6 L1819.3,832.3 L1825.6,832.3 L1825.6,819.3 L1827.6,819.3 L1827.6,850.1 L1833.7,850.1 L1833.7,829.0 L1837.1,829.0 L1837.1,830.7 L1840.8,830.7 L1840.8,842.0 L1844.4,842.0 L1844.4,837.1 L1847.9,837.1 L1847.9,850.1 L1855.6,850.1 L1855.6,821.8 L1857.6,821.8 L1857.6,851.7 L1863.0,851.7 L1863.0,843.6 L1867.7,843.6 L1867.7,824.2 L1869.7,824.2 L1869.7,837.1 L1873.4,837.1 L1873.4,801.5 L1876.4,801.5 L1876.4,812.9 L1879.4,812.9 L1879.4,833.9 L1882.9,833.9 L1882.9,845.2 L1887.1,845.2 L1887.1,822.6 L1889.1,822.6 L1889.1,846.9 L1892.2,846.9 L1892.2,876.0 L1894.4,876.0 L1894.4,856.6 L1896.9,856.6 L1896.9,837.1 L1899.5,837.1 L1899.5,828.2 L1901.1,828.2" stroke="#2ca02c" stroke-opacity="0.87" stroke-width="4.4"/>
<line x1="290.9" y1="515.7" x2="290.9" y2="614.3" stroke="#808080" stroke-width="6.0" stroke-linecap="butt"/>
<line x1="418.0" y1="446.7" x2="418.0" y2="545.3" stroke="#808080" stroke-width="6.0" stroke-linecap="butt"/>
<line x1="538.9" y1="446.7" x2="538.9" y2="545.3" stroke="#808080" stroke-width="6.0" stroke-linecap="butt"/>
<line x1="860.8" y1="466.3" x2="860.8" y2="564.9" stroke="#808080" stroke-width="6.0" stroke-linecap="butt"/>
<line x1="1069.2" y1="466.3" x2="1069.2" y2="564.9" stroke="#808080" stroke-width="6.0" stroke-linecap="butt"/>
<line x1="1293.1" y1="466.3" x2="1293.1" y2="564.9" stroke="#808080" stroke-width="6.0" stroke-linecap="butt"/>
<line x1="1515.4" y1="427.2" x2="1515.4" y2="525.8" stroke="#808080" stroke-width="6.0" stroke-linecap="butt"/>
</g>
<g stroke="#000" stroke-width="2.7">
<line x1="251.0" y1="101.51" x2="261.8" y2="101.51"/>
<line x1="251.0" y1="298.73" x2="261.8" y2="298.73"/>
<line x1="251.0" y1="495.95" x2="261.8" y2="495.95"/>
<line x1="251.0" y1="693.17" x2="261.8" y2="693.17"/>
<line x1="251.0" y1="890.39" x2="261.8" y2="890.39"/>
<line x1="268.43" y1="989.0" x2="268.43" y2="978.2"/>
<line x1="612.93" y1="989.0" x2="612.93" y2="978.2"/>
<line x1="957.43" y1="989.0" x2="957.43" y2="978.2"/>
<line x1="1301.93" y1="989.0" x2="1301.93" y2="978.2"/>
<line x1="1646.43" y1="989.0" x2="1646.43" y2="978.2"/>
</g>
<rect x="251.00" y="2.90" width="1653.75" height="986.10" fill="none" stroke="#000" stroke-width="6"/>
<text x="241.30" y="121.41" font-size="55.5" text-anchor="end" textLength="73.68" lengthAdjust="spacingAndGlyphs">0.6</text>
<text x="241.30" y="318.63" font-size="55.5" text-anchor="end" textLength="73.68" lengthAdjust="spacingAndGlyphs">0.4</text>
<text x="241.30" y="515.85" font-size="55.5" text-anchor="end" textLength="73.68" lengthAdjust="spacingAndGlyphs">0.2</text>
<text x="241.30" y="713.07" font-size="55.5" text-anchor="end" textLength="73.68" lengthAdjust="spacingAndGlyphs">0.0</text>
<text x="241.30" y="910.29" font-size="55.5" text-anchor="end" textLength="103.10" lengthAdjust="spacingAndGlyphs">−0.2</text>
<text x="268.43" y="1039.40" font-size="55.5" text-anchor="middle" textLength="61.43" lengthAdjust="spacingAndGlyphs">10</text>
<text x="612.93" y="1039.40" font-size="55.5" text-anchor="middle" textLength="61.43" lengthAdjust="spacingAndGlyphs">12</text>
<text x="957.43" y="1039.40" font-size="55.5" text-anchor="middle" textLength="61.43" lengthAdjust="spacingAndGlyphs">14</text>
<text x="1301.93" y="1039.40" font-size="55.5" text-anchor="middle" textLength="61.43" lengthAdjust="spacingAndGlyphs">16</text>
<text x="1646.43" y="1039.40" font-size="55.5" text-anchor="middle" textLength="61.43" lengthAdjust="spacingAndGlyphs">18</text>
<text x="1078.00" y="1104.90" font-size="60" text-anchor="middle" textLength="439.90" lengthAdjust="spacingAndGlyphs">Wavelength (µm)</text>
<text transform="translate(114.40,499.00) rotate(-90)" x="0" y="0" font-size="60" text-anchor="middle" textLength="414.31" lengthAdjust="spacingAndGlyphs">Flux density (Jy)</text>
<text x="784.96" y="200.40" font-size="48" text-anchor="start" textLength="239.10" lengthAdjust="spacingAndGlyphs" fill="#1f77b4">ON + 0.2 Jy</text>
<text x="786.10" y="446.70" font-size="48" text-anchor="start" textLength="90.45" lengthAdjust="spacingAndGlyphs" fill="#fdc07c">OFF</text>
<text x="785.10" y="791.90" font-size="48" text-anchor="start" textLength="354.51" lengthAdjust="spacingAndGlyphs" fill="#008000">ON - OFF - 0.2 Jy</text>
<text x="439.55" y="889.60" font-size="41" text-anchor="start" textLength="105.30" lengthAdjust="spacingAndGlyphs" fill="#008000">PAHs</text>
<text x="698.55" y="889.60" font-size="41" text-anchor="start" textLength="105.30" lengthAdjust="spacingAndGlyphs" fill="#008000">PAHs</text>
<text x="1335.65" y="889.60" font-size="41" text-anchor="start" textLength="105.30" lengthAdjust="spacingAndGlyphs" fill="#008000">PAHs</text>
<g stroke="#000" stroke-width="2.7">
<line x1="133.55" y1="1164.50" x2="144.25" y2="1164.50"/>
<line x1="702.50" y1="1164.50" x2="691.80" y2="1164.50"/>
<line x1="133.55" y1="1278.90" x2="144.25" y2="1278.90"/>
<line x1="702.50" y1="1278.90" x2="691.80" y2="1278.90"/>
<line x1="133.55" y1="1393.30" x2="144.25" y2="1393.30"/>
<line x1="702.50" y1="1393.30" x2="691.80" y2="1393.30"/>
<line x1="133.55" y1="1507.70" x2="144.25" y2="1507.70"/>
<line x1="702.50" y1="1507.70" x2="691.80" y2="1507.70"/>
<line x1="133.55" y1="1622.10" x2="144.25" y2="1622.10"/>
<line x1="702.50" y1="1622.10" x2="691.80" y2="1622.10"/>
<line x1="133.55" y1="1645.00" x2="133.55" y2="1634.30"/>
<line x1="133.55" y1="1164.50" x2="133.55" y2="1175.20"/>
<line x1="275.79" y1="1645.00" x2="275.79" y2="1634.30"/>
<line x1="275.79" y1="1164.50" x2="275.79" y2="1175.20"/>
<line x1="418.03" y1="1645.00" x2="418.03" y2="1634.30"/>
<line x1="418.03" y1="1164.50" x2="418.03" y2="1175.20"/>
<line x1="560.26" y1="1645.00" x2="560.26" y2="1634.30"/>
<line x1="560.26" y1="1164.50" x2="560.26" y2="1175.20"/>
<line x1="702.50" y1="1645.00" x2="702.50" y2="1634.30"/>
<line x1="702.50" y1="1164.50" x2="702.50" y2="1175.20"/>
</g>
<g clip-path="url(#cp0)" fill="none" stroke-linejoin="round">
<line x1="207.4" y1="1645.0" x2="207.4" y2="1164.5" stroke="#808080" stroke-opacity="0.5" stroke-width="4.4" stroke-dasharray="16.4,6.57"/>
<line x1="630.0" y1="1645.0" x2="630.0" y2="1164.5" stroke="#808080" stroke-opacity="0.5" stroke-width="4.4" stroke-dasharray="16.4,6.57"/>
<path d="M138.3,1342.6 L141.0,1342.6 L141.0,1326.7 L146.6,1326.7 L146.6,1321.9 L151.1,1321.9 L151.1,1337.8 L155.2,1337.8 L155.2,1335.7 L159.3,1335.7 L159.3,1341.9 L163.1,1341.9 L163.1,1343.3 L167.6,1343.3 L167.6,1347.5 L172.1,1347.5 L172.1,1341.2 L176.3,1341.2 L176.3,1335.7 L180.8,1335.7 L180.8,1319.8 L184.2,1319.8 L184.2,1319.8 L187.0,1319.8 L187.0,1349.5 L191.1,1349.5 L191.1,1346.8 L195.6,1346.8 L195.6,1346.1 L199.7,1346.1 L199.7,1347.5 L203.2,1347.5 L203.2,1341.9 L206.6,1341.9 L206.6,1312.2 L210.8,1312.2 L210.8,1312.2 L214.9,1312.2 L214.9,1333.0 L218.7,1333.0 L218.7,1347.5 L222.9,1347.5 L222.9,1340.6 L228.1,1340.6 L228.1,1339.2 L235.0,1339.2 L235.0,1337.8 L241.9,1337.8 L241.9,1339.2 L246.7,1339.2 L246.7,1345.4 L251.5,1345.4 L251.5,1344.7 L257.1,1344.7 L257.1,1342.6 L261.9,1342.6 L261.9,1344.0 L266.0,1344.0 L266.0,1337.1 L270.9,1337.1 L270.9,1332.3 L276.4,1332.3 L276.4,1335.7 L281.2,1335.7 L281.2,1337.1 L285.4,1337.1 L285.4,1341.9 L289.5,1341.9 L289.5,1341.9 L293.7,1341.9 L293.7,1337.8 L297.8,1337.8 L297.8,1324.0 L302.3,1324.0 L302.3,1310.9 L306.4,1310.9 L306.4,1339.2 L310.2,1339.2 L310.2,1328.8 L314.0,1328.8 L314.0,1328.8 L317.1,1328.8 L317.1,1340.6 L320.6,1340.6 L320.6,1312.2 L324.4,1312.2 L324.4,1341.2 L328.9,1341.2 L328.9,1341.9 L333.7,1341.9 L333.7,1340.6 L337.8,1340.6 L337.8,1342.6 L342.0,1342.6 L342.0,1348.2 L346.8,1348.2 L346.8,1324.7 L352.3,1324.7 L352.3,1327.4 L357.2,1327.4 L357.2,1344.0 L361.7,1344.0 L361.7,1349.5 L365.8,1349.5 L365.8,1339.2 L369.6,1339.2 L369.6,1337.1 L374.4,1337.1 L374.4,1335.7 L379.6,1335.7 L379.6,1348.2 L383.8,1348.2 L383.8,1337.8 L387.6,1337.8 L387.6,1262.5 L391.7,1262.5 L391.7,1223.2 L395.8,1223.2 L395.8,1223.2 L399.6,1223.2 L399.6,1272.9 L402.8,1272.9 L402.8,1318.5 L406.6,1318.5 L406.6,1319.2 L411.0,1319.2 L411.0,1316.4 L415.2,1316.4 L415.2,1341.2 L418.6,1341.2 L418.6,1345.4 L421.0,1345.4 L421.0,1344.7 L424.0,1344.7 L424.0,1335.0 L428.1,1335.0 L428.1,1332.3 L433.6,1332.3 L433.6,1319.8 L439.2,1319.8 L439.2,1321.2 L443.7,1321.2 L443.7,1335.7 L447.8,1335.7 L447.8,1321.2 L452.3,1321.2 L452.3,1309.5 L456.8,1309.5 L456.8,1335.7 L460.6,1335.7 L460.6,1326.7 L465.1,1326.7 L465.1,1305.3 L468.9,1305.3 L468.9,1305.3 L472.3,1305.3 L472.3,1253.6 L477.1,1253.6 L477.1,1254.9 L481.3,1254.9 L481.3,1326.1 L484.7,1326.1 L484.7,1335.0 L488.9,1335.0 L488.9,1319.8 L492.3,1319.8 L492.3,1319.8 L495.1,1319.8 L495.1,1330.9 L499.2,1330.9 L499.2,1334.3 L504.1,1334.3 L504.1,1326.1 L508.9,1326.1 L508.9,1326.1 L513.7,1326.1 L513.7,1312.2 L517.2,1312.2 L517.2,1312.2 L520.6,1312.2 L520.6,1323.3 L524.8,1323.3 L524.8,1322.6 L528.2,1322.6 L528.2,1330.2 L532.4,1330.2 L532.4,1329.5 L537.2,1329.5 L537.2,1323.3 L541.4,1323.3 L541.4,1324.7 L546.2,1324.7 L546.2,1326.7 L551.0,1326.7 L551.0,1319.8 L555.2,1319.8 L555.2,1317.1 L560.0,1317.1 L560.0,1317.8 L564.8,1317.8 L564.8,1320.5 L569.0,1320.5 L569.0,1306.0 L573.1,1306.0 L573.1,1303.3 L577.3,1303.3 L577.3,1303.3 L580.7,1303.3 L580.7,1324.0 L584.9,1324.0 L584.9,1322.6 L590.4,1322.6 L590.4,1325.4 L595.2,1325.4 L595.2,1327.4 L598.7,1327.4 L598.7,1317.1 L602.1,1317.1 L602.1,1314.3 L606.3,1314.3 L606.3,1324.7 L610.4,1324.7 L610.4,1322.6 L614.6,1322.6 L614.6,1328.1 L618.7,1328.1 L618.7,1328.8 L622.2,1328.8 L622.2,1286.0 L625.6,1286.0 L625.6,1244.6 L629.7,1244.6 L629.7,1245.3 L633.2,1245.3 L633.2,1323.3 L636.7,1323.3 L636.7,1323.3 L640.8,1323.3 L640.8,1316.4 L644.9,1316.4 L644.9,1314.3 L649.1,1314.3 L649.1,1312.9 L652.5,1312.9 L652.5,1280.5 L656.0,1280.5 L656.0,1231.5 L659.4,1231.5 L659.4,1232.1 L662.2,1232.1 L662.2,1324.0 L665.7,1324.0 L665.7,1321.2 L669.8,1321.2 L669.8,1308.1 L673.9,1308.1 L673.9,1308.1 L677.0,1308.1 L677.0,1269.4 L679.8,1269.4 L679.8,1219.0 L682.9,1219.0 L682.9,1219.0 L686.0,1219.0 L686.0,1186.6 L688.8,1186.6 L688.8,1186.6 L690.5,1186.6 L690.5,1298.4 L692.6,1298.4 L692.6,1298.4 L695.3,1298.4 L695.3,1283.2 L698.1,1283.2 L698.1,1294.3 L699.5,1294.3" stroke="#fd8a0a" stroke-opacity="0.5" stroke-width="4.0" stroke-linecap="square"/>
<path d="M136.9,1543.2 L138.6,1543.2 L138.6,1539.1 L142.1,1539.1 L142.1,1541.8 L145.5,1541.8 L145.5,1539.7 L149.7,1539.7 L149.7,1541.8 L154.2,1541.8 L154.2,1534.9 L158.0,1534.9 L158.0,1532.1 L161.4,1532.1 L161.4,1530.8 L165.2,1530.8 L165.2,1540.4 L169.4,1540.4 L169.4,1540.4 L172.8,1540.4 L172.8,1532.8 L175.9,1532.8 L175.9,1533.5 L179.7,1533.5 L179.7,1538.4 L183.5,1538.4 L183.5,1540.4 L186.6,1540.4 L186.6,1530.1 L190.8,1530.1 L190.8,1530.1 L195.6,1530.1 L195.6,1533.5 L199.7,1533.5 L199.7,1534.2 L203.9,1534.2 L203.9,1536.3 L208.0,1536.3 L208.0,1537.7 L212.2,1537.7 L212.2,1539.1 L216.3,1539.1 L216.3,1534.2 L221.1,1534.2 L221.1,1531.5 L226.0,1531.5 L226.0,1535.6 L230.1,1535.6 L230.1,1538.4 L234.3,1538.4 L234.3,1535.6 L238.4,1535.6 L238.4,1535.6 L242.9,1535.6 L242.9,1540.4 L247.7,1540.4 L247.7,1538.4 L252.2,1538.4 L252.2,1536.3 L257.1,1536.3 L257.1,1537.0 L261.9,1537.0 L261.9,1535.6 L266.0,1535.6 L266.0,1534.2 L270.2,1534.2 L270.2,1536.3 L274.3,1536.3 L274.3,1541.8 L279.2,1541.8 L279.2,1541.1 L284.0,1541.1 L284.0,1536.3 L288.1,1536.3 L288.1,1532.8 L292.3,1532.8 L292.3,1534.9 L296.4,1534.9 L296.4,1542.5 L300.6,1542.5 L300.6,1534.9 L304.7,1534.9 L304.7,1529.4 L308.8,1529.4 L308.8,1528.0 L313.0,1528.0 L313.0,1531.5 L317.1,1531.5 L317.1,1534.2 L322.7,1534.2 L322.7,1535.6 L328.2,1535.6 L328.2,1539.7 L333.0,1539.7 L333.0,1543.2 L337.8,1543.2 L337.8,1539.7 L342.7,1539.7 L342.7,1539.1 L347.2,1539.1 L347.2,1545.3 L351.0,1545.3 L351.0,1541.1 L355.5,1541.1 L355.5,1535.6 L359.9,1535.6 L359.9,1534.9 L362.0,1534.9 M363.4,1520.4 L364.8,1520.4 L364.8,1521.1 L367.5,1521.1 L367.5,1529.4 L371.0,1529.4 L371.0,1537.7 L375.1,1537.7 L375.1,1542.5 L379.3,1542.5 L379.3,1531.5 L383.4,1531.5 L383.4,1537.7 L387.6,1537.7 L387.6,1550.1 L391.7,1550.1 L391.7,1532.1 L396.5,1532.1 L396.5,1530.8 L401.0,1530.8 L401.0,1546.6 L405.2,1546.6 L405.2,1546.0 L409.7,1546.0 L409.7,1539.1 L413.8,1539.1 L413.8,1537.7 L417.9,1537.7 L417.9,1533.5 L420.3,1533.5 L420.3,1537.7 L422.6,1537.7 L422.6,1534.9 L426.4,1534.9 L426.4,1541.1 L430.5,1541.1 L430.5,1541.1 L435.0,1541.1 L435.0,1542.5 L438.8,1542.5 L438.8,1543.9 L442.6,1543.9 L442.6,1536.3 L446.8,1536.3 L446.8,1537.7 L451.9,1537.7 L451.9,1541.1 L456.8,1541.1 L456.8,1534.2 L460.6,1534.2 L460.6,1537.0 L465.1,1537.0 L465.1,1534.2 L469.6,1534.2 L469.6,1526.6 L473.7,1526.6 L473.7,1527.3 L477.8,1527.3 L477.8,1528.0 L481.3,1528.0 L481.3,1530.8 L484.4,1530.8 L484.4,1522.5 L487.8,1522.5 L487.8,1522.5 L491.0,1522.5 L491.0,1537.7 L493.7,1537.7 L493.7,1526.6 L496.5,1526.6 L496.5,1526.6 L499.6,1526.6 L499.6,1532.8 L503.0,1532.8 L503.0,1530.1 L506.8,1530.1 L506.8,1530.8 L510.3,1530.8 L510.3,1533.5 L513.7,1533.5 L513.7,1536.3 L517.2,1536.3 L517.2,1531.5 L520.6,1531.5 L520.6,1530.8 L524.1,1530.8 L524.1,1529.4 L526.9,1529.4 L526.9,1525.9 L530.3,1525.9 L530.3,1526.6 L534.5,1526.6 L534.5,1529.4 L537.9,1529.4 L537.9,1525.2 L542.1,1525.2 L542.1,1527.3 L546.9,1527.3 L546.9,1528.7 L551.0,1528.7 L551.0,1527.3 L555.9,1527.3 L555.9,1527.3 L560.7,1527.3 L560.7,1529.4 L564.5,1529.4 L564.5,1537.0 L567.9,1537.0 L567.9,1530.8 L572.4,1530.8 L572.4,1525.9 L577.3,1525.9 L577.3,1525.9 L580.0,1525.9 L580.0,1532.8 L583.5,1532.8 L583.5,1530.8 L588.3,1530.8 L588.3,1525.2 L592.5,1525.2 L592.5,1525.2 L596.6,1525.2 L596.6,1525.9 L600.7,1525.9 L600.7,1529.4 L604.9,1529.4 L604.9,1530.8 L609.0,1530.8 L609.0,1527.3 L613.2,1527.3 L613.2,1525.2 L617.3,1525.2 L617.3,1522.5 L621.5,1522.5 L621.5,1525.9 L626.3,1525.9 L626.3,1525.2 L631.1,1525.2 L631.1,1522.5 L635.3,1522.5 L635.3,1521.8 L640.1,1521.8 L640.1,1520.4 L645.6,1520.4 L645.6,1517.0 L650.5,1517.0 L650.5,1512.8 L653.9,1512.8 L653.9,1512.8 L656.7,1512.8 L656.7,1521.1 L660.1,1521.1 L660.1,1523.9 L663.6,1523.9 L663.6,1512.8 L667.0,1512.8 L667.0,1512.8 L670.5,1512.8 L670.5,1519.0 L673.3,1519.0 L673.3,1517.0 L676.7,1517.0 L676.7,1514.2 L680.5,1514.2 L680.5,1511.4 L683.3,1511.4 L683.3,1511.4 L684.3,1511.4 M685.7,1483.8 L687.1,1483.8 L687.1,1483.8 L689.1,1483.8 L689.1,1503.1 L691.9,1503.1 L691.9,1499.7 L696.0,1499.7 L696.0,1501.8 L698.1,1501.8" stroke="#2ca02c" stroke-opacity="0.92" stroke-width="3.3" stroke-linecap="square"/>
</g>
<rect x="133.55" y="1164.50" width="568.95" height="480.50" fill="none" stroke="#000" stroke-width="4.2"/>
<text x="125.85" y="1178.80" font-size="40.5" text-anchor="end" textLength="53.77" lengthAdjust="spacingAndGlyphs">0.2</text>
<text x="125.85" y="1293.20" font-size="40.5" text-anchor="end" textLength="53.77" lengthAdjust="spacingAndGlyphs">0.1</text>
<text x="125.85" y="1407.60" font-size="40.5" text-anchor="end" textLength="53.77" lengthAdjust="spacingAndGlyphs">0.0</text>
<text x="125.85" y="1522.00" font-size="40.5" text-anchor="end" textLength="75.16" lengthAdjust="spacingAndGlyphs">−0.1</text>
<text x="125.85" y="1636.40" font-size="40.5" text-anchor="end" textLength="75.16" lengthAdjust="spacingAndGlyphs">−0.2</text>
<text x="133.55" y="1681.40" font-size="40.5" text-anchor="middle" textLength="97.91" lengthAdjust="spacingAndGlyphs">10.00</text>
<text x="275.79" y="1681.40" font-size="40.5" text-anchor="middle" textLength="97.91" lengthAdjust="spacingAndGlyphs">10.25</text>
<text x="418.03" y="1681.40" font-size="40.5" text-anchor="middle" textLength="97.91" lengthAdjust="spacingAndGlyphs">10.50</text>
<text x="560.26" y="1681.40" font-size="40.5" text-anchor="middle" textLength="97.91" lengthAdjust="spacingAndGlyphs">10.75</text>
<text x="702.50" y="1681.40" font-size="40.5" text-anchor="middle" textLength="95.00" lengthAdjust="spacingAndGlyphs">11.00</text>
<text x="418.72" y="1730.20" font-size="44" text-anchor="middle" textLength="309.83" lengthAdjust="spacingAndGlyphs">wavelength (µm)</text>
<g stroke="#000" stroke-width="2.7">
<line x1="816.50" y1="1164.50" x2="827.20" y2="1164.50"/>
<line x1="1385.00" y1="1164.50" x2="1374.30" y2="1164.50"/>
<line x1="816.50" y1="1278.90" x2="827.20" y2="1278.90"/>
<line x1="1385.00" y1="1278.90" x2="1374.30" y2="1278.90"/>
<line x1="816.50" y1="1393.30" x2="827.20" y2="1393.30"/>
<line x1="1385.00" y1="1393.30" x2="1374.30" y2="1393.30"/>
<line x1="816.50" y1="1507.70" x2="827.20" y2="1507.70"/>
<line x1="1385.00" y1="1507.70" x2="1374.30" y2="1507.70"/>
<line x1="816.50" y1="1622.10" x2="827.20" y2="1622.10"/>
<line x1="1385.00" y1="1622.10" x2="1374.30" y2="1622.10"/>
<line x1="909.40" y1="1645.00" x2="909.40" y2="1634.30"/>
<line x1="909.40" y1="1164.50" x2="909.40" y2="1175.20"/>
<line x1="1062.83" y1="1645.00" x2="1062.83" y2="1634.30"/>
<line x1="1062.83" y1="1164.50" x2="1062.83" y2="1175.20"/>
<line x1="1216.25" y1="1645.00" x2="1216.25" y2="1634.30"/>
<line x1="1216.25" y1="1164.50" x2="1216.25" y2="1175.20"/>
<line x1="1369.67" y1="1645.00" x2="1369.67" y2="1634.30"/>
<line x1="1369.67" y1="1164.50" x2="1369.67" y2="1175.20"/>
</g>
<g clip-path="url(#cp1)" fill="none" stroke-linejoin="round">
<line x1="889.0" y1="1645.0" x2="889.0" y2="1164.5" stroke="#808080" stroke-opacity="0.5" stroke-width="4.4" stroke-dasharray="16.4,6.57"/>
<line x1="1261.4" y1="1645.0" x2="1261.4" y2="1164.5" stroke="#808080" stroke-opacity="0.5" stroke-width="4.4" stroke-dasharray="16.4,6.57"/>
<path d="M818.2,1279.1 L819.9,1279.1 L819.9,1274.9 L823.0,1274.9 L823.0,1287.3 L826.5,1287.3 L826.5,1291.5 L830.6,1291.5 L830.6,1291.5 L834.8,1291.5 L834.8,1294.2 L838.6,1294.2 L838.6,1297.0 L841.7,1297.0 L841.7,1286.0 L845.5,1286.0 L845.5,1287.3 L850.7,1287.3 L850.7,1289.4 L856.2,1289.4 L856.2,1286.0 L861.7,1286.0 L861.7,1288.7 L867.2,1288.7 L867.2,1291.5 L872.8,1291.5 L872.8,1292.9 L878.3,1292.9 L878.3,1288.7 L883.1,1288.7 L883.1,1287.3 L887.3,1287.3 L887.3,1269.4 L891.8,1269.4 L891.8,1259.0 L894.9,1259.0 L894.9,1259.0 L896.9,1259.0 L896.9,1291.5 L900.7,1291.5 L900.7,1289.4 L905.2,1289.4 L905.2,1291.5 L908.7,1291.5 L908.7,1276.3 L911.4,1276.3 L911.4,1276.3 L913.9,1276.3 L913.9,1291.5 L916.6,1291.5 L916.6,1285.3 L920.4,1285.3 L920.4,1282.5 L924.6,1282.5 L924.6,1279.1 L928.0,1279.1 L928.0,1292.9 L931.5,1292.9 L931.5,1284.6 L935.6,1284.6 L935.6,1284.6 L939.4,1284.6 L939.4,1292.9 L942.9,1292.9 L942.9,1291.5 L946.6,1291.5 L946.6,1288.7 L950.1,1288.7 L950.1,1266.6 L952.9,1266.6 L952.9,1266.6 L955.6,1266.6 L955.6,1276.3 L957.7,1276.3 L957.7,1294.2 L960.5,1294.2 L960.5,1287.3 L964.6,1287.3 L964.6,1294.2 L968.1,1294.2 L968.1,1277.7 L971.2,1277.7 L971.2,1281.8 L974.3,1281.8 L974.3,1294.2 L978.1,1294.2 L978.1,1287.3 L982.6,1287.3 L982.6,1288.7 L986.7,1288.7 L986.7,1292.9 L990.8,1292.9 L990.8,1297.0 L995.0,1297.0 L995.0,1292.9 L999.8,1292.9 L999.8,1294.2 L1004.7,1294.2 L1004.7,1291.5 L1008.8,1291.5 L1008.8,1292.9 L1012.9,1292.9 L1012.9,1297.0 L1017.1,1297.0 L1017.1,1291.5 L1021.9,1291.5 L1021.9,1290.1 L1027.4,1290.1 L1027.4,1287.3 L1031.6,1287.3 L1031.6,1292.9 L1035.7,1292.9 L1035.7,1281.1 L1040.2,1281.1 L1040.2,1284.6 L1043.7,1284.6 L1043.7,1297.0 L1046.8,1297.0 L1046.8,1272.1 L1050.2,1272.1 L1050.2,1259.0 L1053.7,1259.0 L1053.7,1259.0 L1056.4,1259.0 L1056.4,1291.5 L1060.6,1291.5 L1060.6,1292.9 L1065.4,1292.9 L1065.4,1288.7 L1069.6,1288.7 L1069.6,1290.1 L1073.7,1290.1 L1073.7,1290.8 L1075.8,1290.8 M1078.5,1273.5 L1079.9,1273.5 L1079.9,1273.5 L1082.7,1273.5 L1082.7,1281.8 L1085.4,1281.8 L1085.4,1295.6 L1089.6,1295.6 L1089.6,1291.5 L1094.4,1291.5 L1094.4,1297.0 L1098.6,1297.0 L1098.6,1303.9 L1101.6,1303.9 L1101.6,1303.9 L1103.9,1303.9 L1103.9,1295.6 L1106.7,1295.6 L1106.7,1287.3 L1110.1,1287.3 L1110.1,1292.9 L1114.3,1292.9 L1114.3,1287.3 L1117.7,1287.3 L1117.7,1269.4 L1121.9,1269.4 L1121.9,1277.7 L1125.7,1277.7 L1125.7,1257.0 L1128.4,1257.0 L1128.4,1279.1 L1132.2,1279.1 L1132.2,1287.3 L1136.4,1287.3 L1136.4,1292.9 L1140.5,1292.9 L1140.5,1290.1 L1144.6,1290.1 L1144.6,1287.3 L1148.1,1287.3 L1148.1,1261.8 L1151.2,1261.8 L1151.2,1272.1 L1154.3,1272.1 L1154.3,1292.9 L1157.1,1292.9 L1157.1,1281.8 L1160.2,1281.8 L1160.2,1223.8 L1163.6,1223.8 L1163.6,1223.8 L1167.1,1223.8 L1167.1,1232.1 L1169.5,1232.1 L1169.5,1302.5 L1172.3,1302.5 L1172.3,1299.8 L1175.4,1299.8 L1175.4,1281.8 L1177.4,1281.8 L1177.4,1281.8 L1179.5,1281.8 L1179.5,1301.1 L1183.0,1301.1 L1183.0,1295.6 L1186.8,1295.6 L1186.8,1303.9 L1190.2,1303.9 L1190.2,1294.2 L1194.4,1294.2 L1194.4,1292.9 L1197.1,1292.9 L1197.1,1257.0 L1198.9,1257.0 L1198.9,1257.0 L1200.9,1257.0 L1200.9,1301.1 L1204.0,1301.1 L1204.0,1290.1 L1207.5,1290.1 L1207.5,1298.4 L1210.2,1298.4 L1210.2,1302.5 L1213.7,1302.5 L1213.7,1297.0 L1217.8,1297.0 L1217.8,1295.6 L1221.3,1295.6 L1221.3,1301.1 L1224.1,1301.1 L1224.1,1299.8 L1226.8,1299.8 L1226.8,1265.2 L1229.2,1265.2 L1229.2,1265.2 L1232.0,1265.2 L1232.0,1301.1 L1235.1,1301.1 L1235.1,1292.9 L1237.9,1292.9 L1237.9,1286.0 L1241.3,1286.0 L1241.3,1290.1 L1245.5,1290.1 L1245.5,1294.2 L1249.6,1294.2 L1249.6,1303.9 L1253.7,1303.9 L1253.7,1302.5 L1257.2,1302.5 L1257.2,1270.8 L1260.0,1270.8 L1260.0,1270.8 L1262.4,1270.8 L1262.4,1281.8 L1265.1,1281.8 L1265.1,1292.9 L1268.9,1292.9 L1268.9,1297.0 L1273.1,1297.0 L1273.1,1298.4 L1277.2,1298.4 L1277.2,1298.4 L1282.1,1298.4 L1282.1,1295.6 L1286.9,1295.6 L1286.9,1298.4 L1290.3,1298.4 L1290.3,1291.5 L1293.8,1291.5 L1293.8,1290.1 L1297.9,1290.1 L1297.9,1295.6 L1301.4,1295.6 L1301.4,1298.4 L1303.8,1298.4 L1303.8,1255.6 L1305.9,1255.6 L1305.9,1255.6 L1308.3,1255.6 L1308.3,1274.9 L1311.1,1274.9 L1311.1,1292.9 L1314.5,1292.9 L1314.5,1291.5 L1318.0,1291.5 L1318.0,1285.3 L1320.7,1285.3 L1320.7,1294.2 L1324.2,1294.2 L1324.2,1297.0 L1329.0,1297.0 L1329.0,1295.6 L1333.8,1295.6 L1333.8,1286.0 L1338.7,1286.0 L1338.7,1286.0 L1342.8,1286.0 L1342.8,1298.4 L1346.3,1298.4 L1346.3,1302.5 L1350.4,1302.5 L1350.4,1294.2 L1353.9,1294.2 L1353.9,1257.0 L1357.0,1257.0 L1357.0,1257.0 L1360.4,1257.0 L1360.4,1266.6 L1364.2,1266.6 L1364.2,1274.9 L1367.7,1274.9 L1367.7,1290.1 L1371.1,1290.1 L1371.1,1295.6 L1375.3,1295.6 L1375.3,1292.9 L1379.4,1292.9 L1379.4,1298.4 L1381.5,1298.4" stroke="#fd8a0a" stroke-opacity="0.5" stroke-width="4.0" stroke-linecap="square"/>
<path d="M818.9,1557.3 L821.0,1557.3 L821.0,1553.9 L825.8,1553.9 L825.8,1553.2 L831.3,1553.2 L831.3,1555.2 L836.9,1555.2 L836.9,1549.7 L841.3,1549.7 L841.3,1560.8 L845.5,1560.8 L845.5,1558.7 L849.3,1558.7 L849.3,1555.2 L853.4,1555.2 L853.4,1553.9 L859.0,1553.9 L859.0,1551.8 L864.5,1551.8 L864.5,1551.1 L869.3,1551.1 L869.3,1550.4 L872.8,1550.4 L872.8,1555.2 L876.2,1555.2 L876.2,1555.2 L881.1,1555.2 L881.1,1555.9 L886.6,1555.9 L886.6,1558.0 L890.4,1558.0 L890.4,1561.5 L893.1,1561.5 L893.1,1558.0 L896.2,1558.0 L896.2,1552.5 L900.4,1552.5 L900.4,1551.8 L905.2,1551.8 L905.2,1555.2 L908.7,1555.2 L908.7,1551.1 L912.1,1551.1 L912.1,1548.3 L916.3,1548.3 L916.3,1545.6 L920.4,1545.6 L920.4,1540.7 L924.6,1540.7 L924.6,1545.6 L928.7,1545.6 L928.7,1548.3 L932.1,1548.3 L932.1,1552.5 L934.9,1552.5 L934.9,1558.0 L939.1,1558.0 L939.1,1555.2 L944.6,1555.2 L944.6,1555.2 L949.4,1555.2 L949.4,1554.6 L953.6,1554.6 L953.6,1549.0 L957.7,1549.0 L957.7,1552.5 L961.8,1552.5 L961.8,1553.9 L966.0,1553.9 L966.0,1551.1 L969.4,1551.1 L969.4,1559.4 L972.9,1559.4 L972.9,1553.9 L977.0,1553.9 L977.0,1554.6 L981.2,1554.6 L981.2,1558.0 L985.3,1558.0 L985.3,1560.8 L989.5,1560.8 L989.5,1553.2 L993.6,1553.2 L993.6,1555.2 L997.1,1555.2 L997.1,1562.8 L1000.5,1562.8 L1000.5,1563.5 L1004.7,1563.5 L1004.7,1567.0 L1008.8,1567.0 L1008.8,1562.1 L1012.9,1562.1 L1012.9,1560.8 L1017.1,1560.8 L1017.1,1553.9 L1021.2,1553.9 L1021.2,1553.9 L1025.4,1553.9 L1025.4,1558.0 L1030.2,1558.0 L1030.2,1559.4 L1035.7,1559.4 L1035.7,1560.8 L1041.3,1560.8 L1041.3,1559.4 L1045.4,1559.4 L1045.4,1556.6 L1048.2,1556.6 L1048.2,1558.7 L1052.3,1558.7 L1052.3,1555.2 L1057.8,1555.2 L1057.8,1551.1 L1062.7,1551.1 L1062.7,1553.9 L1067.5,1553.9 L1067.5,1555.9 L1072.3,1555.9 L1072.3,1557.3 L1074.4,1557.3 M1081.3,1565.6 L1083.4,1565.6 L1083.4,1562.1 L1087.5,1562.1 L1087.5,1556.6 L1091.7,1556.6 L1091.7,1562.8 L1096.5,1562.8 L1096.5,1563.5 L1100.6,1563.5 L1100.6,1556.6 L1102.3,1556.6 L1102.3,1558.0 L1103.9,1558.0 L1103.9,1564.9 L1107.4,1564.9 L1107.4,1565.6 L1110.8,1565.6 L1110.8,1560.8 L1114.3,1560.8 L1114.3,1562.1 L1118.4,1562.1 L1118.4,1562.8 L1121.9,1562.8 L1121.9,1555.2 L1125.3,1555.2 L1125.3,1557.3 L1128.8,1557.3 L1128.8,1558.0 L1132.2,1558.0 L1132.2,1555.9 L1136.4,1555.9 L1136.4,1558.0 L1139.8,1558.0 L1139.8,1563.5 L1143.3,1563.5 L1143.3,1564.2 L1146.7,1564.2 L1146.7,1559.4 L1150.2,1559.4 L1150.2,1558.7 L1154.3,1558.7 L1154.3,1560.1 L1159.1,1560.1 L1159.1,1556.6 L1164.0,1556.6 L1164.0,1558.0 L1168.1,1558.0 L1168.1,1558.0 L1172.3,1558.0 L1172.3,1560.8 L1177.1,1560.8 L1177.1,1564.2 L1182.6,1564.2 L1182.6,1564.9 L1186.1,1564.9 L1186.1,1556.6 L1188.1,1556.6 L1188.1,1564.9 L1191.6,1564.9 L1191.6,1564.2 L1195.1,1564.2 L1195.1,1558.0 L1198.5,1558.0 L1198.5,1558.7 L1202.0,1558.7 L1202.0,1566.3 L1204.7,1566.3 L1204.7,1560.8 L1208.2,1560.8 L1208.2,1557.3 L1212.3,1557.3 L1212.3,1557.3 L1216.5,1557.3 L1216.5,1562.8 L1219.9,1562.8 L1219.9,1555.9 L1223.0,1555.9 L1223.0,1556.6 L1226.1,1556.6 L1226.1,1562.1 L1229.9,1562.1 L1229.9,1563.5 L1233.7,1563.5 L1233.7,1561.5 L1236.5,1561.5 L1236.5,1568.4 L1239.9,1568.4 L1239.9,1564.9 L1244.1,1564.9 L1244.1,1563.5 L1248.2,1563.5 L1248.2,1564.9 L1252.4,1564.9 L1252.4,1564.2 L1256.2,1564.2 L1256.2,1566.3 L1258.9,1566.3 L1258.9,1559.4 L1261.3,1559.4 L1261.3,1567.0 L1264.8,1567.0 L1264.8,1564.9 L1268.9,1564.9 L1268.9,1560.8 L1273.8,1560.8 L1273.8,1560.8 L1278.6,1560.8 L1278.6,1565.6 L1282.7,1565.6 L1282.7,1566.3 L1286.2,1566.3 L1286.2,1562.8 L1290.3,1562.8 L1290.3,1562.8 L1295.9,1562.8 L1295.9,1562.8 L1300.0,1562.8 L1300.0,1560.8 L1303.5,1560.8 L1303.5,1562.8 L1307.6,1562.8 L1307.6,1563.5 L1311.1,1563.5 L1311.1,1570.4 L1314.5,1570.4 L1314.5,1570.4 L1318.0,1570.4 L1318.0,1558.7 L1320.7,1558.7 L1320.7,1553.9 L1323.1,1553.9 L1323.1,1553.9 L1325.2,1553.9 L1325.2,1570.4 L1328.3,1570.4 L1328.3,1569.1 L1331.8,1569.1 L1331.8,1564.9 L1335.9,1564.9 L1335.9,1564.2 L1341.4,1564.2 L1341.4,1562.1 L1345.6,1562.1 L1345.6,1564.9 L1349.0,1564.9 L1349.0,1562.8 L1353.9,1562.8 L1353.9,1564.9 L1358.7,1564.9 L1358.7,1559.4 L1362.8,1559.4 L1362.8,1562.8 L1367.7,1562.8 L1367.7,1562.1 L1372.5,1562.1 L1372.5,1564.2 L1376.7,1564.2 L1376.7,1564.9 L1380.1,1564.9 L1380.1,1559.4 L1381.5,1559.4" stroke="#2ca02c" stroke-opacity="0.92" stroke-width="3.3" stroke-linecap="square"/>
</g>
<rect x="816.50" y="1164.50" width="568.50" height="480.50" fill="none" stroke="#000" stroke-width="4.2"/>
<text x="808.80" y="1178.80" font-size="40.5" text-anchor="end" textLength="53.77" lengthAdjust="spacingAndGlyphs">0.2</text>
<text x="808.80" y="1293.20" font-size="40.5" text-anchor="end" textLength="53.77" lengthAdjust="spacingAndGlyphs">0.1</text>
<text x="808.80" y="1407.60" font-size="40.5" text-anchor="end" textLength="53.77" lengthAdjust="spacingAndGlyphs">0.0</text>
<text x="808.80" y="1522.00" font-size="40.5" text-anchor="end" textLength="75.16" lengthAdjust="spacingAndGlyphs">−0.1</text>
<text x="808.80" y="1636.40" font-size="40.5" text-anchor="end" textLength="75.16" lengthAdjust="spacingAndGlyphs">−0.2</text>
<text x="909.40" y="1681.40" font-size="40.5" text-anchor="middle" textLength="75.68" lengthAdjust="spacingAndGlyphs">13.5</text>
<text x="1062.83" y="1681.40" font-size="40.5" text-anchor="middle" textLength="75.68" lengthAdjust="spacingAndGlyphs">14.0</text>
<text x="1216.25" y="1681.40" font-size="40.5" text-anchor="middle" textLength="75.68" lengthAdjust="spacingAndGlyphs">14.5</text>
<text x="1369.67" y="1681.40" font-size="40.5" text-anchor="middle" textLength="75.68" lengthAdjust="spacingAndGlyphs">15.0</text>
<text x="1101.45" y="1730.20" font-size="44" text-anchor="middle" textLength="309.83" lengthAdjust="spacingAndGlyphs">wavelength (µm)</text>
<g stroke="#000" stroke-width="2.7">
<line x1="1498.90" y1="1164.50" x2="1509.60" y2="1164.50"/>
<line x1="2068.00" y1="1164.50" x2="2057.30" y2="1164.50"/>
<line x1="1498.90" y1="1278.90" x2="1509.60" y2="1278.90"/>
<line x1="2068.00" y1="1278.90" x2="2057.30" y2="1278.90"/>
<line x1="1498.90" y1="1393.30" x2="1509.60" y2="1393.30"/>
<line x1="2068.00" y1="1393.30" x2="2057.30" y2="1393.30"/>
<line x1="1498.90" y1="1507.70" x2="1509.60" y2="1507.70"/>
<line x1="2068.00" y1="1507.70" x2="2057.30" y2="1507.70"/>
<line x1="1498.90" y1="1622.10" x2="1509.60" y2="1622.10"/>
<line x1="2068.00" y1="1622.10" x2="2057.30" y2="1622.10"/>
<line x1="1565.90" y1="1645.00" x2="1565.90" y2="1634.30"/>
<line x1="1565.90" y1="1164.50" x2="1565.90" y2="1175.20"/>
<line x1="1731.80" y1="1645.00" x2="1731.80" y2="1634.30"/>
<line x1="1731.80" y1="1164.50" x2="1731.80" y2="1175.20"/>
<line x1="1897.70" y1="1645.00" x2="1897.70" y2="1634.30"/>
<line x1="1897.70" y1="1164.50" x2="1897.70" y2="1175.20"/>
<line x1="2063.60" y1="1645.00" x2="2063.60" y2="1634.30"/>
<line x1="2063.60" y1="1164.50" x2="2063.60" y2="1175.20"/>
</g>
<g clip-path="url(#cp2)" fill="none" stroke-linejoin="round">
<line x1="1548.6" y1="1645.0" x2="1548.6" y2="1164.5" stroke="#808080" stroke-opacity="0.5" stroke-width="4.4" stroke-dasharray="16.4,6.57"/>
<line x1="1977.9" y1="1645.0" x2="1977.9" y2="1164.5" stroke="#808080" stroke-opacity="0.5" stroke-width="4.4" stroke-dasharray="16.4,6.57"/>
<path d="M1501.2,1284.3 L1502.9,1284.3 L1502.9,1280.1 L1506.7,1280.1 L1506.7,1278.8 L1510.9,1278.8 L1510.9,1281.5 L1515.0,1281.5 L1515.0,1284.3 L1519.2,1284.3 L1519.2,1277.4 L1523.3,1277.4 L1523.3,1273.9 L1528.1,1273.9 L1528.1,1276.0 L1533.7,1276.0 L1533.7,1275.3 L1537.8,1275.3 L1537.8,1281.5 L1541.3,1281.5 L1541.3,1283.6 L1545.4,1283.6 L1545.4,1286.4 L1549.6,1286.4 L1549.6,1285.7 L1553.0,1285.7 L1553.0,1278.8 L1556.5,1278.8 L1556.5,1271.9 L1560.6,1271.9 L1560.6,1269.1 L1564.7,1269.1 L1564.7,1262.9 L1568.5,1262.9 L1568.5,1262.9 L1571.3,1262.9 L1571.3,1278.8 L1575.1,1278.8 L1575.1,1278.8 L1579.9,1278.8 L1579.9,1277.4 L1582.7,1277.4 L1582.7,1289.8 L1585.1,1289.8 L1585.1,1292.6 L1587.9,1292.6 L1587.9,1317.4 L1590.3,1317.4 L1590.3,1317.4 L1592.7,1317.4 L1592.7,1296.7 L1594.4,1296.7 L1594.4,1267.7 L1596.9,1267.7 L1596.9,1266.3 L1600.0,1266.3 L1600.0,1255.3 L1602.4,1255.3 L1602.4,1255.3 L1604.4,1255.3 L1604.4,1270.5 L1606.9,1270.5 L1606.9,1278.8 L1610.3,1278.8 L1610.3,1277.4 L1614.5,1277.4 L1614.5,1276.0 L1617.9,1276.0 L1617.9,1269.1 L1620.7,1269.1 L1620.7,1269.1 L1623.4,1269.1 L1623.4,1282.9 L1626.2,1282.9 L1626.2,1242.9 L1629.6,1242.9 L1629.6,1242.9 L1632.4,1242.9 L1632.4,1262.2 L1634.5,1262.2 L1634.5,1263.6 L1636.6,1263.6 L1636.6,1277.4 L1639.3,1277.4 L1639.3,1270.5 L1642.8,1270.5 L1642.8,1269.1 L1645.2,1269.1 L1645.2,1165.5 L1647.3,1165.5 L1647.3,1165.5 L1649.7,1165.5 L1649.7,1227.7 L1652.4,1227.7 L1652.4,1273.2 L1655.2,1273.2 L1655.2,1273.2 L1658.0,1273.2 L1658.0,1201.4 L1660.7,1201.4 L1660.7,1201.4 L1662.4,1201.4 L1662.4,1265.0 L1664.5,1265.0 L1664.5,1265.0 L1666.9,1265.0 L1666.9,1285.0 L1669.0,1285.0 L1669.0,1285.0 L1670.4,1285.0 M1675.9,1281.5 L1678.0,1281.5 L1678.0,1281.5 L1681.4,1281.5 L1681.4,1271.9 L1684.2,1271.9 L1684.2,1262.2 L1688.3,1262.2 L1688.3,1265.0 L1692.5,1265.0 L1692.5,1269.1 L1695.2,1269.1 L1695.2,1260.8 L1698.0,1260.8 L1698.0,1251.1 L1701.5,1251.1 L1701.5,1251.1 L1704.2,1251.1 L1704.2,1265.0 L1707.0,1265.0 L1707.0,1262.2 L1710.4,1262.2 L1710.4,1249.8 L1714.6,1249.8 L1714.6,1252.5 L1719.4,1252.5 L1719.4,1244.2 L1722.9,1244.2 L1722.9,1245.6 L1726.3,1245.6 L1726.3,1252.5 L1729.4,1252.5 L1729.4,1282.9 L1732.2,1282.9 L1732.2,1223.5 L1735.3,1223.5 L1735.3,1223.5 L1738.1,1223.5 L1738.1,1274.6 L1740.8,1274.6 L1740.8,1263.6 L1744.3,1263.6 L1744.3,1262.2 L1747.0,1262.2 L1747.0,1198.7 L1749.1,1198.7 L1749.1,1198.7 L1751.9,1198.7 L1751.9,1256.7 L1754.6,1256.7 L1754.6,1276.0 L1757.4,1276.0 L1757.4,1271.9 L1760.8,1271.9 L1760.8,1266.3 L1765.0,1266.3 L1765.0,1266.3 L1769.1,1266.3 L1769.1,1259.4 L1773.3,1259.4 L1773.3,1249.8 L1777.4,1249.8 L1777.4,1262.2 L1782.3,1262.2 L1782.3,1262.2 L1785.3,1262.2 L1785.3,1262.2 L1788.3,1262.2 L1788.3,1262.2 L1793.1,1262.2 L1793.1,1262.9 L1796.6,1262.9 L1796.6,1248.4 L1800.7,1248.4 L1800.7,1247.0 L1804.9,1247.0 L1804.9,1266.3 L1807.6,1266.3 L1807.6,1255.3 L1811.1,1255.3 L1811.1,1253.9 L1815.9,1253.9 L1815.9,1251.1 L1821.4,1251.1 L1821.4,1253.9 L1826.3,1253.9 L1826.3,1262.2 L1829.7,1262.2 L1829.7,1247.0 L1833.2,1247.0 L1833.2,1227.7 L1836.6,1227.7 L1836.6,1227.7 L1839.0,1227.7 L1839.0,1260.8 L1842.5,1260.8 L1842.5,1262.9 L1847.0,1262.9 L1847.0,1263.6 L1851.1,1263.6 L1851.1,1256.7 L1855.3,1256.7 L1855.3,1255.3 L1859.4,1255.3 L1859.4,1247.7 L1863.6,1247.7 L1863.6,1255.3 L1867.7,1255.3 L1867.7,1241.5 L1871.8,1241.5 L1871.8,1241.5 L1874.6,1241.5 L1874.6,1262.2 L1877.4,1262.2 L1877.4,1251.1 L1882.2,1251.1 L1882.2,1249.8 L1887.7,1249.8 L1887.7,1248.4 L1892.6,1248.4 L1892.6,1230.4 L1896.0,1230.4 L1896.0,1229.1 L1898.4,1229.1 L1898.4,1146.2 L1908.1,1146.2 L1908.1,1146.2 L1917.1,1146.2 L1917.1,1241.5 L1919.1,1241.5 L1919.1,1241.5 L1922.2,1241.5 L1922.2,1223.5 L1925.0,1223.5 L1925.0,1223.5 L1927.1,1223.5 L1927.1,1146.2 L1929.2,1146.2 L1929.2,1146.2 L1931.2,1146.2 L1931.2,1220.8 L1934.0,1220.8 L1934.0,1220.8 L1936.7,1220.8 L1936.7,1248.4 L1938.8,1248.4 L1938.8,1229.1 L1941.6,1229.1 L1941.6,1216.6 L1945.0,1216.6 L1945.0,1216.6 L1947.8,1216.6 L1947.8,1237.3 L1950.2,1237.3 L1950.2,1237.3 L1953.0,1237.3 L1953.0,1248.4 L1956.1,1248.4 L1956.1,1251.1 L1959.5,1251.1 L1959.5,1244.2 L1963.7,1244.2 L1963.7,1244.2 L1968.2,1244.2 L1968.2,1215.2 L1971.6,1215.2 L1971.6,1215.2 L1974.7,1215.2 L1974.7,1234.6 L1977.5,1234.6 L1977.5,1260.8 L1980.9,1260.8 L1980.9,1258.1 L1985.1,1258.1 L1985.1,1244.2 L1989.2,1244.2 L1989.2,1229.1 L1993.4,1229.1 L1993.4,1229.1 L1997.5,1229.1 L1997.5,1245.6 L2001.7,1245.6 L2001.7,1227.7 L2004.8,1227.7 L2004.8,1146.2 L2007.5,1146.2 L2007.5,1146.2 L2009.9,1146.2 L2009.9,1194.5 L2012.0,1194.5 L2012.0,1194.5 L2014.1,1194.5 L2014.1,1231.8 L2016.8,1231.8 L2016.8,1212.5 L2021.0,1212.5 L2021.0,1212.5 L2023.8,1212.5 L2023.8,1245.6 L2026.5,1245.6 L2026.5,1236.0 L2030.7,1236.0 L2030.7,1237.3 L2034.1,1237.3 L2034.1,1248.4 L2036.9,1248.4 L2036.9,1234.6 L2039.6,1234.6 L2039.6,1222.1 L2042.4,1222.1 L2042.4,1222.1 L2044.8,1222.1 L2044.8,1241.5 L2047.9,1241.5 L2047.9,1241.5 L2051.0,1241.5 L2051.0,1269.1 L2053.4,1269.1 L2053.4,1269.1 L2055.5,1269.1 L2055.5,1242.9 L2058.3,1242.9 L2058.3,1238.7 L2061.7,1238.7 L2061.7,1237.3 L2063.5,1237.3 L2063.5,1176.6 L2064.1,1176.6 L2064.1,1176.6 L2064.5,1176.6" stroke="#fd8a0a" stroke-opacity="0.5" stroke-width="4.0" stroke-linecap="square"/>
<path d="M1501.2,1565.6 L1502.9,1565.6 L1502.9,1564.9 L1506.7,1564.9 L1506.7,1564.9 L1510.9,1564.9 L1510.9,1552.5 L1515.7,1552.5 L1515.7,1549.0 L1520.2,1549.0 L1520.2,1558.7 L1524.3,1558.7 L1524.3,1556.6 L1528.8,1556.6 L1528.8,1560.1 L1533.0,1560.1 L1533.0,1554.6 L1537.1,1554.6 L1537.1,1555.9 L1542.0,1555.9 L1542.0,1556.6 L1547.5,1556.6 L1547.5,1558.0 L1553.0,1558.0 L1553.0,1558.7 L1557.8,1558.7 L1557.8,1555.2 L1561.3,1555.2 L1561.3,1562.8 L1564.7,1562.8 L1564.7,1567.7 L1568.9,1567.7 L1568.9,1563.5 L1573.0,1563.5 L1573.0,1559.4 L1577.2,1559.4 L1577.2,1553.2 L1581.3,1553.2 L1581.3,1560.1 L1585.5,1560.1 L1585.5,1557.3 L1589.6,1557.3 L1589.6,1552.5 L1593.1,1552.5 L1593.1,1553.9 L1595.1,1553.9 L1595.1,1569.7 L1597.9,1569.7 L1597.9,1574.6 L1602.0,1574.6 L1602.0,1564.2 L1606.2,1564.2 L1606.2,1562.1 L1610.3,1562.1 L1610.3,1556.6 L1614.5,1556.6 L1614.5,1555.2 L1619.3,1555.2 L1619.3,1554.6 L1623.4,1554.6 L1623.4,1551.1 L1626.9,1551.1 L1626.9,1542.1 L1630.7,1542.1 L1630.7,1542.1 L1632.8,1542.1 L1632.8,1556.6 L1635.2,1556.6 L1635.2,1553.2 L1639.3,1553.2 L1639.3,1547.0 L1642.8,1547.0 L1642.8,1547.0 L1645.5,1547.0 L1645.5,1551.8 L1649.7,1551.8 L1649.7,1551.1 L1654.5,1551.1 L1654.5,1551.1 L1658.0,1551.1 L1658.0,1562.1 L1660.7,1562.1 L1660.7,1570.4 L1663.5,1570.4 L1663.5,1570.4 L1665.6,1570.4 L1665.6,1537.3 L1668.3,1537.3 L1668.3,1536.6 L1670.4,1536.6 M1677.3,1529.7 L1679.4,1529.7 L1679.4,1529.7 L1682.8,1529.7 L1682.8,1539.4 L1685.6,1539.4 L1685.6,1532.5 L1688.3,1532.5 L1688.3,1531.8 L1690.4,1531.8 L1690.4,1522.8 L1693.2,1522.8 L1693.2,1520.7 L1696.6,1520.7 L1696.6,1518.6 L1700.1,1518.6 L1700.1,1522.1 L1703.5,1522.1 L1703.5,1518.6 L1707.0,1518.6 L1707.0,1520.0 L1711.1,1520.0 L1711.1,1525.5 L1715.3,1525.5 L1715.3,1520.7 L1718.7,1520.7 L1718.7,1520.7 L1720.8,1520.7 L1720.8,1533.1 L1723.6,1533.1 L1723.6,1535.9 L1727.7,1535.9 L1727.7,1540.0 L1731.8,1540.0 L1731.8,1541.4 L1736.0,1541.4 L1736.0,1538.7 L1739.4,1538.7 L1739.4,1547.6 L1742.2,1547.6 L1742.2,1540.0 L1746.3,1540.0 L1746.3,1540.0 L1751.9,1540.0 L1751.9,1535.2 L1756.0,1535.2 L1756.0,1535.9 L1758.1,1535.9 L1758.1,1552.5 L1760.8,1552.5 L1760.8,1552.5 L1764.0,1552.5 L1764.0,1560.8 L1766.0,1560.8 L1766.0,1553.2 L1769.1,1553.2 L1769.1,1549.7 L1773.3,1549.7 L1773.3,1551.8 L1777.4,1551.8 L1777.4,1551.8 L1782.3,1551.8 L1782.3,1553.2 L1785.3,1553.2 L1785.3,1553.2 L1788.3,1553.2 L1788.3,1553.2 L1792.4,1553.2 L1792.4,1547.6 L1796.6,1547.6 L1796.6,1549.0 L1802.1,1549.0 L1802.1,1549.0 L1806.2,1549.0 L1806.2,1547.6 L1808.7,1547.6 L1808.7,1556.6 L1811.4,1556.6 L1811.4,1554.6 L1815.9,1554.6 L1815.9,1551.8 L1820.0,1551.8 L1820.0,1552.5 L1823.5,1552.5 L1823.5,1555.9 L1827.6,1555.9 L1827.6,1558.0 L1831.1,1558.0 L1831.1,1564.2 L1834.6,1564.2 L1834.6,1561.5 L1838.7,1561.5 L1838.7,1560.8 L1842.1,1560.8 L1842.1,1555.9 L1846.3,1555.9 L1846.3,1554.6 L1851.8,1554.6 L1851.8,1555.9 L1857.3,1555.9 L1857.3,1555.2 L1861.5,1555.2 L1861.5,1558.7 L1864.9,1558.7 L1864.9,1557.3 L1868.4,1557.3 L1868.4,1549.7 L1871.8,1549.7 L1871.8,1541.4 L1876.0,1541.4 L1876.0,1541.4 L1878.7,1541.4 L1878.7,1552.5 L1881.5,1552.5 L1881.5,1555.2 L1885.0,1555.2 L1885.0,1551.8 L1888.4,1551.8 L1888.4,1551.1 L1892.6,1551.1 L1892.6,1551.1 L1896.7,1551.1 L1896.7,1552.5 L1900.8,1552.5 L1900.8,1551.8 L1904.3,1551.8 L1904.3,1539.4 L1907.7,1539.4 L1907.7,1538.7 L1911.2,1538.7 L1911.2,1538.7 L1914.0,1538.7 L1914.0,1547.6 L1916.7,1547.6 L1916.7,1555.9 L1919.5,1555.9 L1919.5,1549.0 L1922.9,1549.0 L1922.9,1548.3 L1927.1,1548.3 L1927.1,1548.3 L1929.8,1548.3 L1929.8,1529.0 L1932.6,1529.0 L1932.6,1529.0 L1935.4,1529.0 L1935.4,1534.5 L1937.4,1534.5 L1937.4,1535.9 L1940.2,1535.9 L1940.2,1541.4 L1943.0,1541.4 L1943.0,1547.0 L1946.4,1547.0 L1946.4,1551.1 L1950.6,1551.1 L1950.6,1552.5 L1954.7,1552.5 L1954.7,1552.5 L1958.8,1552.5 L1958.8,1552.5 L1962.3,1552.5 L1962.3,1558.0 L1964.4,1558.0 L1964.4,1541.4 L1967.1,1541.4 L1967.1,1540.7 L1971.3,1540.7 L1971.3,1540.0 L1974.4,1540.0 L1974.4,1552.5 L1976.5,1552.5 L1976.5,1535.9 L1979.6,1535.9 L1979.6,1535.9 L1982.3,1535.9 L1982.3,1552.5 L1985.1,1552.5 L1985.1,1552.5 L1987.8,1552.5 L1987.8,1563.5 L1989.9,1563.5 L1989.9,1563.5 L1992.3,1563.5 L1992.3,1554.6 L1995.1,1554.6 L1995.1,1543.5 L1998.9,1543.5 L1998.9,1545.6 L2002.3,1545.6 L2002.3,1545.6 L2004.8,1545.6 L2004.8,1523.5 L2007.5,1523.5 L2007.5,1523.5 L2010.3,1523.5 L2010.3,1539.4 L2013.0,1539.4 L2013.0,1529.7 L2016.5,1529.7 L2016.5,1529.7 L2018.9,1529.7 L2018.9,1547.0 L2021.3,1547.0 L2021.3,1541.4 L2025.8,1541.4 L2025.8,1544.2 L2031.3,1544.2 L2031.3,1545.6 L2035.5,1545.6 L2035.5,1549.7 L2038.3,1549.7 L2038.3,1544.2 L2041.7,1544.2 L2041.7,1542.8 L2045.8,1542.8 L2045.8,1539.4 L2049.3,1539.4 L2049.3,1525.5 L2052.1,1525.5 L2052.1,1525.5 L2054.8,1525.5 L2054.8,1544.2 L2058.3,1544.2 L2058.3,1548.3 L2062.4,1548.3 L2062.4,1549.0 L2064.5,1549.0" stroke="#2ca02c" stroke-opacity="0.92" stroke-width="3.3" stroke-linecap="square"/>
</g>
<rect x="1498.90" y="1164.50" width="569.10" height="480.50" fill="none" stroke="#000" stroke-width="4.2"/>
<text x="1491.20" y="1178.80" font-size="40.5" text-anchor="end" textLength="53.77" lengthAdjust="spacingAndGlyphs">0.2</text>
<text x="1491.20" y="1293.20" font-size="40.5" text-anchor="end" textLength="53.77" lengthAdjust="spacingAndGlyphs">0.1</text>
<text x="1491.20" y="1407.60" font-size="40.5" text-anchor="end" textLength="53.77" lengthAdjust="spacingAndGlyphs">0.0</text>
<text x="1491.20" y="1522.00" font-size="40.5" text-anchor="end" textLength="75.16" lengthAdjust="spacingAndGlyphs">−0.1</text>
<text x="1491.20" y="1636.40" font-size="40.5" text-anchor="end" textLength="75.16" lengthAdjust="spacingAndGlyphs">−0.2</text>
<text x="1565.90" y="1681.40" font-size="40.5" text-anchor="middle" textLength="75.68" lengthAdjust="spacingAndGlyphs">16.0</text>
<text x="1731.80" y="1681.40" font-size="40.5" text-anchor="middle" textLength="75.68" lengthAdjust="spacingAndGlyphs">16.5</text>
<text x="1897.70" y="1681.40" font-size="40.5" text-anchor="middle" textLength="75.68" lengthAdjust="spacingAndGlyphs">17.0</text>
<text x="2063.60" y="1681.40" font-size="40.5" text-anchor="middle" textLength="75.68" lengthAdjust="spacingAndGlyphs">17.5</text>
<text x="1784.15" y="1730.20" font-size="44" text-anchor="middle" textLength="309.83" lengthAdjust="spacingAndGlyphs">wavelength (µm)</text>
<text transform="translate(34.40,1404.55) rotate(-90)" x="0" y="0" font-size="44" text-anchor="middle" textLength="275.20" lengthAdjust="spacingAndGlyphs">Intensity (arb.)</text>
</svg></body></html>
